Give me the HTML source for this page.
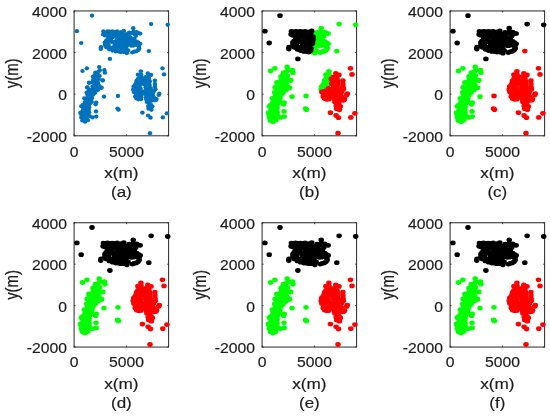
<!DOCTYPE html>
<html><head><meta charset="utf-8"><title>Clustering results</title>
<style>
html,body{margin:0;padding:0;background:#fff;}
svg{display:block;font-family:"Liberation Sans",Arial,Helvetica,sans-serif;fill:#1c1c1c;}
text{stroke:#1c1c1c;stroke-width:0.18px;}
</style></head><body>
<svg width="550" height="416" viewBox="0 0 550 416">
<rect width="550" height="416" fill="#ffffff"/>
<rect x="74.10" y="10.95" width="94.50" height="124.85" fill="none" stroke="#262626" stroke-width="1"/>
<path d="M74.10 135.80v-1.4M74.10 10.95v1.4M126.60 135.80v-1.4M126.60 10.95v1.4M74.10 135.80h1.4M168.60 135.80h-1.4M74.10 94.18h1.4M168.60 94.18h-1.4M74.10 52.57h1.4M168.60 52.57h-1.4M74.10 10.95h1.4M168.60 10.95h-1.4" stroke="#262626" stroke-width="0.9" fill="none"/>
<g fill="#0072bd"><ellipse cx="106.3" cy="47.3" rx="2.25" ry="2.1"/><ellipse cx="109.3" cy="49.3" rx="2.25" ry="2.1"/><ellipse cx="112.5" cy="50.6" rx="2.25" ry="2.1"/><ellipse cx="115.8" cy="51.4" rx="2.25" ry="2.1"/><ellipse cx="103.4" cy="31.4" rx="2.25" ry="2.1"/><ellipse cx="107.4" cy="31.3" rx="2.25" ry="2.1"/><ellipse cx="112.4" cy="31.4" rx="2.25" ry="2.1"/><ellipse cx="117.1" cy="31.3" rx="2.25" ry="2.1"/><ellipse cx="123.8" cy="30.9" rx="2.25" ry="2.1"/><ellipse cx="129.2" cy="32.5" rx="2.25" ry="2.1"/><ellipse cx="133.5" cy="31.7" rx="2.25" ry="2.1"/><ellipse cx="136.5" cy="32.1" rx="2.25" ry="2.1"/><ellipse cx="140.2" cy="33.6" rx="2.25" ry="2.1"/><ellipse cx="135.8" cy="35.9" rx="2.25" ry="2.1"/><ellipse cx="140.2" cy="43.8" rx="2.25" ry="2.1"/><ellipse cx="139.2" cy="48.5" rx="2.25" ry="2.1"/><ellipse cx="126.9" cy="53.2" rx="2.25" ry="2.1"/><ellipse cx="132.3" cy="52.5" rx="2.25" ry="2.1"/><ellipse cx="136.2" cy="51.3" rx="2.25" ry="2.1"/><ellipse cx="138.0" cy="50.2" rx="2.25" ry="2.1"/><ellipse cx="103.1" cy="34.5" rx="2.25" ry="2.1"/><ellipse cx="104.9" cy="42.5" rx="2.25" ry="2.1"/><ellipse cx="104.9" cy="45.0" rx="2.25" ry="2.1"/><ellipse cx="114.9" cy="34.2" rx="2.25" ry="2.1"/><ellipse cx="123.0" cy="39.1" rx="2.25" ry="2.1"/><ellipse cx="105.3" cy="32.9" rx="2.25" ry="2.1"/><ellipse cx="118.8" cy="49.5" rx="2.25" ry="2.1"/><ellipse cx="107.3" cy="35.8" rx="2.25" ry="2.1"/><ellipse cx="108.1" cy="33.5" rx="2.25" ry="2.1"/><ellipse cx="114.4" cy="49.2" rx="2.25" ry="2.1"/><ellipse cx="126.9" cy="39.2" rx="2.25" ry="2.1"/><ellipse cx="128.5" cy="40.5" rx="2.25" ry="2.1"/><ellipse cx="114.6" cy="44.0" rx="2.25" ry="2.1"/><ellipse cx="119.9" cy="37.6" rx="2.25" ry="2.1"/><ellipse cx="122.6" cy="50.6" rx="2.25" ry="2.1"/><ellipse cx="130.4" cy="37.3" rx="2.25" ry="2.1"/><ellipse cx="108.4" cy="41.9" rx="2.25" ry="2.1"/><ellipse cx="131.7" cy="43.8" rx="2.25" ry="2.1"/><ellipse cx="129.1" cy="44.2" rx="2.25" ry="2.1"/><ellipse cx="124.7" cy="41.1" rx="2.25" ry="2.1"/><ellipse cx="120.7" cy="45.8" rx="2.25" ry="2.1"/><ellipse cx="117.3" cy="45.9" rx="2.25" ry="2.1"/><ellipse cx="109.3" cy="36.0" rx="2.25" ry="2.1"/><ellipse cx="111.5" cy="41.8" rx="2.25" ry="2.1"/><ellipse cx="125.0" cy="36.7" rx="2.25" ry="2.1"/><ellipse cx="116.7" cy="43.6" rx="2.25" ry="2.1"/><ellipse cx="138.9" cy="46.4" rx="2.25" ry="2.1"/><ellipse cx="117.5" cy="39.8" rx="2.25" ry="2.1"/><ellipse cx="110.6" cy="34.5" rx="2.25" ry="2.1"/><ellipse cx="126.0" cy="34.2" rx="2.25" ry="2.1"/><ellipse cx="120.4" cy="41.7" rx="2.25" ry="2.1"/><ellipse cx="115.7" cy="36.8" rx="2.25" ry="2.1"/><ellipse cx="122.7" cy="34.1" rx="2.25" ry="2.1"/><ellipse cx="122.9" cy="48.4" rx="2.25" ry="2.1"/><ellipse cx="126.4" cy="51.1" rx="2.25" ry="2.1"/><ellipse cx="134.6" cy="41.6" rx="2.25" ry="2.1"/><ellipse cx="131.2" cy="41.6" rx="2.25" ry="2.1"/><ellipse cx="112.2" cy="37.4" rx="2.25" ry="2.1"/><ellipse cx="116.1" cy="41.2" rx="2.25" ry="2.1"/><ellipse cx="118.6" cy="51.5" rx="2.25" ry="2.1"/><ellipse cx="119.4" cy="34.9" rx="2.25" ry="2.1"/><ellipse cx="106.6" cy="43.5" rx="2.25" ry="2.1"/><ellipse cx="120.8" cy="52.1" rx="2.25" ry="2.1"/><ellipse cx="123.9" cy="52.1" rx="2.25" ry="2.1"/><ellipse cx="134.6" cy="33.9" rx="2.25" ry="2.1"/><ellipse cx="108.5" cy="47.0" rx="2.25" ry="2.1"/><ellipse cx="110.1" cy="38.0" rx="2.25" ry="2.1"/><ellipse cx="126.4" cy="42.4" rx="2.25" ry="2.1"/><ellipse cx="112.9" cy="33.7" rx="2.25" ry="2.1"/><ellipse cx="124.3" cy="46.6" rx="2.25" ry="2.1"/><ellipse cx="122.7" cy="36.2" rx="2.25" ry="2.1"/><ellipse cx="138.2" cy="33.2" rx="2.25" ry="2.1"/><ellipse cx="131.2" cy="45.7" rx="2.25" ry="2.1"/><ellipse cx="136.6" cy="45.0" rx="2.25" ry="2.1"/><ellipse cx="107.7" cy="39.0" rx="2.25" ry="2.1"/><ellipse cx="126.5" cy="46.2" rx="2.25" ry="2.1"/><ellipse cx="128.3" cy="37.4" rx="2.25" ry="2.1"/><ellipse cx="122.3" cy="41.3" rx="2.25" ry="2.1"/><ellipse cx="136.7" cy="41.5" rx="2.25" ry="2.1"/><ellipse cx="122.6" cy="44.0" rx="2.25" ry="2.1"/><ellipse cx="117.4" cy="35.9" rx="2.25" ry="2.1"/><ellipse cx="128.6" cy="35.3" rx="2.25" ry="2.1"/><ellipse cx="111.0" cy="48.0" rx="2.25" ry="2.1"/><ellipse cx="133.4" cy="45.6" rx="2.25" ry="2.1"/><ellipse cx="121.0" cy="32.0" rx="2.25" ry="2.1"/><ellipse cx="110.9" cy="39.8" rx="2.25" ry="2.1"/><ellipse cx="118.6" cy="44.0" rx="2.25" ry="2.1"/><ellipse cx="106.1" cy="40.8" rx="2.25" ry="2.1"/><ellipse cx="116.3" cy="48.1" rx="2.25" ry="2.1"/><ellipse cx="119.3" cy="47.2" rx="2.25" ry="2.1"/><ellipse cx="113.4" cy="47.0" rx="2.25" ry="2.1"/><ellipse cx="113.4" cy="35.7" rx="2.25" ry="2.1"/><ellipse cx="132.2" cy="39.6" rx="2.25" ry="2.1"/><ellipse cx="138.4" cy="42.7" rx="2.25" ry="2.1"/><ellipse cx="134.4" cy="38.8" rx="2.25" ry="2.1"/><ellipse cx="125.8" cy="48.5" rx="2.25" ry="2.1"/><ellipse cx="131.7" cy="33.1" rx="2.25" ry="2.1"/><ellipse cx="109.5" cy="31.6" rx="2.25" ry="2.1"/><ellipse cx="118.3" cy="33.1" rx="2.25" ry="2.1"/><ellipse cx="134.7" cy="44.0" rx="2.25" ry="2.1"/><ellipse cx="120.8" cy="48.8" rx="2.25" ry="2.1"/><ellipse cx="114.5" cy="32.0" rx="2.25" ry="2.1"/><ellipse cx="124.5" cy="43.5" rx="2.25" ry="2.1"/><ellipse cx="108.6" cy="44.9" rx="2.25" ry="2.1"/><ellipse cx="115.3" cy="46.2" rx="2.25" ry="2.1"/><ellipse cx="117.6" cy="37.9" rx="2.25" ry="2.1"/><ellipse cx="120.9" cy="39.4" rx="2.25" ry="2.1"/><ellipse cx="127.1" cy="44.2" rx="2.25" ry="2.1"/><ellipse cx="118.1" cy="42.0" rx="2.25" ry="2.1"/><ellipse cx="114.1" cy="41.8" rx="2.25" ry="2.1"/><ellipse cx="104.9" cy="35.3" rx="2.25" ry="2.1"/><ellipse cx="134.2" cy="51.7" rx="2.25" ry="2.1"/><ellipse cx="128.1" cy="50.3" rx="2.25" ry="2.1"/><ellipse cx="125.0" cy="38.9" rx="2.25" ry="2.1"/><ellipse cx="82.3" cy="120.5" rx="2.25" ry="2.1"/><ellipse cx="85.0" cy="121.7" rx="2.25" ry="2.1"/><ellipse cx="87.8" cy="120.2" rx="2.25" ry="2.1"/><ellipse cx="81.3" cy="117.5" rx="2.25" ry="2.1"/><ellipse cx="89.6" cy="116.0" rx="2.25" ry="2.1"/><ellipse cx="80.8" cy="114.0" rx="2.25" ry="2.1"/><ellipse cx="99.8" cy="70.3" rx="2.25" ry="2.1"/><ellipse cx="95.4" cy="72.7" rx="2.25" ry="2.1"/><ellipse cx="93.0" cy="76.7" rx="2.25" ry="2.1"/><ellipse cx="102.6" cy="80.4" rx="2.25" ry="2.1"/><ellipse cx="89.1" cy="83.0" rx="2.25" ry="2.1"/><ellipse cx="87.1" cy="87.5" rx="2.25" ry="2.1"/><ellipse cx="101.0" cy="87.8" rx="2.25" ry="2.1"/><ellipse cx="86.7" cy="92.5" rx="2.25" ry="2.1"/><ellipse cx="84.3" cy="98.3" rx="2.25" ry="2.1"/><ellipse cx="80.5" cy="112.6" rx="2.25" ry="2.1"/><ellipse cx="81.3" cy="106.3" rx="2.25" ry="2.1"/><ellipse cx="97.6" cy="87.7" rx="2.25" ry="2.1"/><ellipse cx="99.5" cy="75.9" rx="2.25" ry="2.1"/><ellipse cx="94.7" cy="75.4" rx="2.25" ry="2.1"/><ellipse cx="90.8" cy="100.1" rx="2.25" ry="2.1"/><ellipse cx="82.9" cy="113.6" rx="2.25" ry="2.1"/><ellipse cx="93.9" cy="89.5" rx="2.25" ry="2.1"/><ellipse cx="84.6" cy="115.5" rx="2.25" ry="2.1"/><ellipse cx="95.0" cy="92.8" rx="2.25" ry="2.1"/><ellipse cx="86.6" cy="111.0" rx="2.25" ry="2.1"/><ellipse cx="98.7" cy="79.0" rx="2.25" ry="2.1"/><ellipse cx="92.5" cy="82.3" rx="2.25" ry="2.1"/><ellipse cx="98.1" cy="89.8" rx="2.25" ry="2.1"/><ellipse cx="85.5" cy="107.0" rx="2.25" ry="2.1"/><ellipse cx="86.9" cy="114.5" rx="2.25" ry="2.1"/><ellipse cx="83.6" cy="107.9" rx="2.25" ry="2.1"/><ellipse cx="97.9" cy="82.7" rx="2.25" ry="2.1"/><ellipse cx="92.0" cy="98.1" rx="2.25" ry="2.1"/><ellipse cx="89.1" cy="112.3" rx="2.25" ry="2.1"/><ellipse cx="87.5" cy="94.7" rx="2.25" ry="2.1"/><ellipse cx="91.2" cy="89.8" rx="2.25" ry="2.1"/><ellipse cx="98.4" cy="71.8" rx="2.25" ry="2.1"/><ellipse cx="87.1" cy="108.2" rx="2.25" ry="2.1"/><ellipse cx="95.8" cy="79.4" rx="2.25" ry="2.1"/><ellipse cx="86.5" cy="103.5" rx="2.25" ry="2.1"/><ellipse cx="97.3" cy="74.4" rx="2.25" ry="2.1"/><ellipse cx="95.9" cy="84.3" rx="2.25" ry="2.1"/><ellipse cx="93.0" cy="94.8" rx="2.25" ry="2.1"/><ellipse cx="95.6" cy="87.3" rx="2.25" ry="2.1"/><ellipse cx="84.8" cy="119.0" rx="2.25" ry="2.1"/><ellipse cx="87.3" cy="98.1" rx="2.25" ry="2.1"/><ellipse cx="86.6" cy="100.6" rx="2.25" ry="2.1"/><ellipse cx="92.6" cy="86.4" rx="2.25" ry="2.1"/><ellipse cx="86.8" cy="117.4" rx="2.25" ry="2.1"/><ellipse cx="92.1" cy="92.2" rx="2.25" ry="2.1"/><ellipse cx="90.1" cy="103.3" rx="2.25" ry="2.1"/><ellipse cx="88.8" cy="105.1" rx="2.25" ry="2.1"/><ellipse cx="82.8" cy="105.0" rx="2.25" ry="2.1"/><ellipse cx="90.9" cy="95.9" rx="2.25" ry="2.1"/><ellipse cx="96.0" cy="77.0" rx="2.25" ry="2.1"/><ellipse cx="91.7" cy="101.8" rx="2.25" ry="2.1"/><ellipse cx="90.2" cy="92.9" rx="2.25" ry="2.1"/><ellipse cx="94.1" cy="85.1" rx="2.25" ry="2.1"/><ellipse cx="83.0" cy="110.2" rx="2.25" ry="2.1"/><ellipse cx="88.5" cy="102.1" rx="2.25" ry="2.1"/><ellipse cx="94.6" cy="82.7" rx="2.25" ry="2.1"/><ellipse cx="99.4" cy="86.4" rx="2.25" ry="2.1"/><ellipse cx="88.5" cy="96.4" rx="2.25" ry="2.1"/><ellipse cx="89.9" cy="98.1" rx="2.25" ry="2.1"/><ellipse cx="93.2" cy="79.9" rx="2.25" ry="2.1"/><ellipse cx="89.0" cy="90.2" rx="2.25" ry="2.1"/><ellipse cx="89.1" cy="107.6" rx="2.25" ry="2.1"/><ellipse cx="96.1" cy="90.6" rx="2.25" ry="2.1"/><ellipse cx="84.5" cy="111.9" rx="2.25" ry="2.1"/><ellipse cx="88.7" cy="110.0" rx="2.25" ry="2.1"/><ellipse cx="88.6" cy="99.7" rx="2.25" ry="2.1"/><ellipse cx="98.3" cy="84.7" rx="2.25" ry="2.1"/><ellipse cx="82.5" cy="115.7" rx="2.25" ry="2.1"/><ellipse cx="84.6" cy="104.2" rx="2.25" ry="2.1"/><ellipse cx="85.0" cy="102.1" rx="2.25" ry="2.1"/><ellipse cx="85.2" cy="109.1" rx="2.25" ry="2.1"/><ellipse cx="96.5" cy="81.3" rx="2.25" ry="2.1"/><ellipse cx="141.2" cy="95.5" rx="2.25" ry="2.1"/><ellipse cx="141.3" cy="97.5" rx="2.25" ry="2.1"/><ellipse cx="140.9" cy="99.2" rx="2.25" ry="2.1"/><ellipse cx="138.5" cy="99.3" rx="2.25" ry="2.1"/><ellipse cx="136.5" cy="98.5" rx="2.25" ry="2.1"/><ellipse cx="135.2" cy="96.5" rx="2.25" ry="2.1"/><ellipse cx="146.1" cy="95.0" rx="2.25" ry="2.1"/><ellipse cx="146.1" cy="97.5" rx="2.25" ry="2.1"/><ellipse cx="146.4" cy="99.5" rx="2.25" ry="2.1"/><ellipse cx="146.9" cy="102.0" rx="2.25" ry="2.1"/><ellipse cx="140.9" cy="71.3" rx="2.25" ry="2.1"/><ellipse cx="137.9" cy="74.7" rx="2.25" ry="2.1"/><ellipse cx="147.8" cy="73.4" rx="2.25" ry="2.1"/><ellipse cx="151.0" cy="74.9" rx="2.25" ry="2.1"/><ellipse cx="133.2" cy="89.4" rx="2.25" ry="2.1"/><ellipse cx="133.6" cy="86.6" rx="2.25" ry="2.1"/><ellipse cx="156.5" cy="99.1" rx="2.25" ry="2.1"/><ellipse cx="155.0" cy="100.3" rx="2.25" ry="2.1"/><ellipse cx="151.4" cy="109.8" rx="2.25" ry="2.1"/><ellipse cx="141.7" cy="81.3" rx="2.25" ry="2.1"/><ellipse cx="148.4" cy="76.9" rx="2.25" ry="2.1"/><ellipse cx="140.0" cy="85.1" rx="2.25" ry="2.1"/><ellipse cx="151.0" cy="105.0" rx="2.25" ry="2.1"/><ellipse cx="145.8" cy="79.1" rx="2.25" ry="2.1"/><ellipse cx="150.8" cy="96.9" rx="2.25" ry="2.1"/><ellipse cx="136.4" cy="91.2" rx="2.25" ry="2.1"/><ellipse cx="150.3" cy="93.1" rx="2.25" ry="2.1"/><ellipse cx="147.9" cy="87.3" rx="2.25" ry="2.1"/><ellipse cx="149.0" cy="78.8" rx="2.25" ry="2.1"/><ellipse cx="149.6" cy="85.0" rx="2.25" ry="2.1"/><ellipse cx="150.4" cy="107.8" rx="2.25" ry="2.1"/><ellipse cx="137.7" cy="88.9" rx="2.25" ry="2.1"/><ellipse cx="141.1" cy="74.6" rx="2.25" ry="2.1"/><ellipse cx="148.8" cy="97.0" rx="2.25" ry="2.1"/><ellipse cx="137.8" cy="94.1" rx="2.25" ry="2.1"/><ellipse cx="135.5" cy="93.3" rx="2.25" ry="2.1"/><ellipse cx="152.3" cy="98.2" rx="2.25" ry="2.1"/><ellipse cx="143.3" cy="78.9" rx="2.25" ry="2.1"/><ellipse cx="143.0" cy="93.4" rx="2.25" ry="2.1"/><ellipse cx="137.9" cy="79.0" rx="2.25" ry="2.1"/><ellipse cx="143.7" cy="84.0" rx="2.25" ry="2.1"/><ellipse cx="137.0" cy="86.3" rx="2.25" ry="2.1"/><ellipse cx="138.6" cy="96.5" rx="2.25" ry="2.1"/><ellipse cx="148.2" cy="106.0" rx="2.25" ry="2.1"/><ellipse cx="136.5" cy="80.9" rx="2.25" ry="2.1"/><ellipse cx="149.4" cy="103.1" rx="2.25" ry="2.1"/><ellipse cx="136.0" cy="83.3" rx="2.25" ry="2.1"/><ellipse cx="142.7" cy="91.4" rx="2.25" ry="2.1"/><ellipse cx="149.5" cy="100.2" rx="2.25" ry="2.1"/><ellipse cx="148.6" cy="83.2" rx="2.25" ry="2.1"/><ellipse cx="140.5" cy="88.3" rx="2.25" ry="2.1"/><ellipse cx="141.6" cy="77.3" rx="2.25" ry="2.1"/><ellipse cx="150.7" cy="88.1" rx="2.25" ry="2.1"/><ellipse cx="140.4" cy="92.2" rx="2.25" ry="2.1"/><ellipse cx="138.8" cy="82.8" rx="2.25" ry="2.1"/><ellipse cx="144.3" cy="80.6" rx="2.25" ry="2.1"/><ellipse cx="148.3" cy="89.8" rx="2.25" ry="2.1"/><ellipse cx="146.3" cy="89.4" rx="2.25" ry="2.1"/><ellipse cx="145.4" cy="91.8" rx="2.25" ry="2.1"/><ellipse cx="135.1" cy="88.3" rx="2.25" ry="2.1"/><ellipse cx="147.8" cy="92.4" rx="2.25" ry="2.1"/><ellipse cx="145.5" cy="85.3" rx="2.25" ry="2.1"/><ellipse cx="153.3" cy="96.4" rx="2.25" ry="2.1"/><ellipse cx="151.7" cy="100.7" rx="2.25" ry="2.1"/><ellipse cx="151.0" cy="90.1" rx="2.25" ry="2.1"/><ellipse cx="146.6" cy="82.8" rx="2.25" ry="2.1"/><ellipse cx="141.1" cy="79.2" rx="2.25" ry="2.1"/><ellipse cx="149.8" cy="81.4" rx="2.25" ry="2.1"/><ellipse cx="154.4" cy="98.4" rx="2.25" ry="2.1"/><ellipse cx="145.6" cy="77.0" rx="2.25" ry="2.1"/><ellipse cx="133.8" cy="92.0" rx="2.25" ry="2.1"/><ellipse cx="139.5" cy="80.9" rx="2.25" ry="2.1"/><ellipse cx="139.4" cy="77.5" rx="2.25" ry="2.1"/><ellipse cx="152.7" cy="93.4" rx="2.25" ry="2.1"/><ellipse cx="139.6" cy="90.3" rx="2.25" ry="2.1"/><ellipse cx="148.0" cy="94.4" rx="2.25" ry="2.1"/><ellipse cx="141.2" cy="83.5" rx="2.25" ry="2.1"/><ellipse cx="147.3" cy="80.8" rx="2.25" ry="2.1"/><ellipse cx="139.1" cy="86.9" rx="2.25" ry="2.1"/><ellipse cx="152.4" cy="106.6" rx="2.25" ry="2.1"/><ellipse cx="135.0" cy="85.2" rx="2.25" ry="2.1"/><ellipse cx="148.6" cy="108.7" rx="2.25" ry="2.1"/><ellipse cx="151.3" cy="94.8" rx="2.25" ry="2.1"/><ellipse cx="138.3" cy="92.2" rx="2.25" ry="2.1"/><ellipse cx="145.6" cy="87.5" rx="2.25" ry="2.1"/><ellipse cx="92.0" cy="15.7" rx="2.25" ry="2.1"/><ellipse cx="76.9" cy="31.2" rx="2.25" ry="2.1"/><ellipse cx="81.2" cy="43.0" rx="2.25" ry="2.1"/><ellipse cx="101.0" cy="47.2" rx="2.25" ry="2.1"/><ellipse cx="100.8" cy="49.0" rx="2.25" ry="2.1"/><ellipse cx="151.1" cy="24.1" rx="2.25" ry="2.1"/><ellipse cx="167.7" cy="24.8" rx="2.25" ry="2.1"/><ellipse cx="148.8" cy="51.1" rx="2.25" ry="2.1"/><ellipse cx="109.9" cy="58.9" rx="2.25" ry="2.1"/><ellipse cx="133.2" cy="28.2" rx="2.25" ry="2.1"/><ellipse cx="86.9" cy="68.3" rx="2.25" ry="2.1"/><ellipse cx="82.5" cy="71.0" rx="2.25" ry="2.1"/><ellipse cx="99.2" cy="67.0" rx="2.25" ry="2.1"/><ellipse cx="104.4" cy="70.1" rx="2.25" ry="2.1"/><ellipse cx="104.9" cy="72.7" rx="2.25" ry="2.1"/><ellipse cx="102.7" cy="80.3" rx="2.25" ry="2.1"/><ellipse cx="89.1" cy="82.5" rx="2.25" ry="2.1"/><ellipse cx="87.5" cy="87.4" rx="2.25" ry="2.1"/><ellipse cx="101.6" cy="87.7" rx="2.25" ry="2.1"/><ellipse cx="104.0" cy="96.7" rx="2.25" ry="2.1"/><ellipse cx="118.0" cy="95.9" rx="2.25" ry="2.1"/><ellipse cx="117.5" cy="108.6" rx="2.25" ry="2.1"/><ellipse cx="118.5" cy="109.7" rx="2.25" ry="2.1"/><ellipse cx="96.2" cy="102.6" rx="2.25" ry="2.1"/><ellipse cx="95.6" cy="104.3" rx="2.25" ry="2.1"/><ellipse cx="96.0" cy="111.4" rx="2.25" ry="2.1"/><ellipse cx="96.2" cy="116.6" rx="2.25" ry="2.1"/><ellipse cx="92.4" cy="117.4" rx="2.25" ry="2.1"/><ellipse cx="162.5" cy="68.3" rx="2.25" ry="2.1"/><ellipse cx="164.0" cy="74.4" rx="2.25" ry="2.1"/><ellipse cx="159.3" cy="93.7" rx="2.25" ry="2.1"/><ellipse cx="154.9" cy="80.6" rx="2.25" ry="2.1"/><ellipse cx="154.9" cy="83.9" rx="2.25" ry="2.1"/><ellipse cx="155.0" cy="86.7" rx="2.25" ry="2.1"/><ellipse cx="155.4" cy="89.2" rx="2.25" ry="2.1"/><ellipse cx="153.6" cy="91.5" rx="2.25" ry="2.1"/><ellipse cx="142.4" cy="112.7" rx="2.25" ry="2.1"/><ellipse cx="148.1" cy="115.5" rx="2.25" ry="2.1"/><ellipse cx="150.5" cy="117.7" rx="2.25" ry="2.1"/><ellipse cx="162.8" cy="117.4" rx="2.25" ry="2.1"/><ellipse cx="166.9" cy="113.3" rx="2.25" ry="2.1"/><ellipse cx="150.0" cy="133.2" rx="2.25" ry="2.1"/><ellipse cx="156.0" cy="99.9" rx="2.25" ry="2.1"/><ellipse cx="158.7" cy="95.0" rx="2.25" ry="2.1"/></g>
<text transform="translate(74.10,156.50) scale(1.125,1)" text-anchor="middle" font-size="14">0</text>
<text transform="translate(126.60,156.50) scale(1.125,1)" text-anchor="middle" font-size="14">5000</text>
<text transform="translate(67.00,141.95) scale(1.125,1)" text-anchor="end" font-size="14">-2000</text>
<text transform="translate(67.00,100.33) scale(1.125,1)" text-anchor="end" font-size="14">0</text>
<text transform="translate(67.00,58.72) scale(1.125,1)" text-anchor="end" font-size="14">2000</text>
<text transform="translate(67.00,17.10) scale(1.125,1)" text-anchor="end" font-size="14">4000</text>
<text transform="translate(121.35,178.10) scale(1.16,1)" text-anchor="middle" font-size="14.8">x(m)</text>
<text transform="translate(121.35,197.20) scale(1.15,1)" text-anchor="middle" font-size="14.8">(a)</text>
<text transform="translate(17.90,73.37) rotate(-90) scale(1,1.2)" text-anchor="middle" font-size="15">y(m)</text>
<rect x="262.10" y="10.95" width="94.50" height="124.85" fill="none" stroke="#262626" stroke-width="1"/>
<path d="M262.10 135.80v-1.4M262.10 10.95v1.4M314.60 135.80v-1.4M314.60 10.95v1.4M262.10 135.80h1.4M356.60 135.80h-1.4M262.10 94.18h1.4M356.60 94.18h-1.4M262.10 52.57h1.4M356.60 52.57h-1.4M262.10 10.95h1.4M356.60 10.95h-1.4" stroke="#262626" stroke-width="0.9" fill="none"/>
<g fill="#00ff00"><ellipse cx="317.2" cy="32.5" rx="2.75" ry="2.4"/><ellipse cx="321.5" cy="31.7" rx="2.75" ry="2.4"/><ellipse cx="324.5" cy="32.1" rx="2.75" ry="2.4"/><ellipse cx="328.2" cy="33.6" rx="2.75" ry="2.4"/><ellipse cx="323.8" cy="35.9" rx="2.75" ry="2.4"/><ellipse cx="328.2" cy="43.8" rx="2.75" ry="2.4"/><ellipse cx="327.2" cy="48.5" rx="2.75" ry="2.4"/><ellipse cx="314.9" cy="53.2" rx="2.75" ry="2.4"/><ellipse cx="320.3" cy="52.5" rx="2.75" ry="2.4"/><ellipse cx="324.2" cy="51.3" rx="2.75" ry="2.4"/><ellipse cx="326.0" cy="50.2" rx="2.75" ry="2.4"/><ellipse cx="314.9" cy="39.2" rx="2.75" ry="2.4"/><ellipse cx="316.5" cy="40.5" rx="2.75" ry="2.4"/><ellipse cx="318.4" cy="37.3" rx="2.75" ry="2.4"/><ellipse cx="319.7" cy="43.8" rx="2.75" ry="2.4"/><ellipse cx="317.1" cy="44.2" rx="2.75" ry="2.4"/><ellipse cx="326.9" cy="46.4" rx="2.75" ry="2.4"/><ellipse cx="314.0" cy="34.2" rx="2.75" ry="2.4"/><ellipse cx="314.4" cy="51.1" rx="2.75" ry="2.4"/><ellipse cx="322.6" cy="41.6" rx="2.75" ry="2.4"/><ellipse cx="319.2" cy="41.6" rx="2.75" ry="2.4"/><ellipse cx="311.9" cy="52.1" rx="2.75" ry="2.4"/><ellipse cx="322.6" cy="33.9" rx="2.75" ry="2.4"/><ellipse cx="314.4" cy="42.4" rx="2.75" ry="2.4"/><ellipse cx="312.3" cy="46.6" rx="2.75" ry="2.4"/><ellipse cx="326.2" cy="33.2" rx="2.75" ry="2.4"/><ellipse cx="319.2" cy="45.7" rx="2.75" ry="2.4"/><ellipse cx="324.6" cy="45.0" rx="2.75" ry="2.4"/><ellipse cx="314.5" cy="46.2" rx="2.75" ry="2.4"/><ellipse cx="316.3" cy="37.4" rx="2.75" ry="2.4"/><ellipse cx="324.7" cy="41.5" rx="2.75" ry="2.4"/><ellipse cx="316.6" cy="35.3" rx="2.75" ry="2.4"/><ellipse cx="321.4" cy="45.6" rx="2.75" ry="2.4"/><ellipse cx="320.2" cy="39.6" rx="2.75" ry="2.4"/><ellipse cx="326.4" cy="42.7" rx="2.75" ry="2.4"/><ellipse cx="322.4" cy="38.8" rx="2.75" ry="2.4"/><ellipse cx="313.8" cy="48.5" rx="2.75" ry="2.4"/><ellipse cx="319.7" cy="33.1" rx="2.75" ry="2.4"/><ellipse cx="322.7" cy="44.0" rx="2.75" ry="2.4"/><ellipse cx="315.1" cy="44.2" rx="2.75" ry="2.4"/><ellipse cx="322.2" cy="51.7" rx="2.75" ry="2.4"/><ellipse cx="316.1" cy="50.3" rx="2.75" ry="2.4"/><ellipse cx="270.3" cy="120.5" rx="2.75" ry="2.4"/><ellipse cx="273.0" cy="121.7" rx="2.75" ry="2.4"/><ellipse cx="275.8" cy="120.2" rx="2.75" ry="2.4"/><ellipse cx="269.3" cy="117.5" rx="2.75" ry="2.4"/><ellipse cx="277.6" cy="116.0" rx="2.75" ry="2.4"/><ellipse cx="268.8" cy="114.0" rx="2.75" ry="2.4"/><ellipse cx="287.8" cy="70.3" rx="2.75" ry="2.4"/><ellipse cx="283.4" cy="72.7" rx="2.75" ry="2.4"/><ellipse cx="281.0" cy="76.7" rx="2.75" ry="2.4"/><ellipse cx="290.6" cy="80.4" rx="2.75" ry="2.4"/><ellipse cx="277.1" cy="83.0" rx="2.75" ry="2.4"/><ellipse cx="275.1" cy="87.5" rx="2.75" ry="2.4"/><ellipse cx="289.0" cy="87.8" rx="2.75" ry="2.4"/><ellipse cx="274.7" cy="92.5" rx="2.75" ry="2.4"/><ellipse cx="272.3" cy="98.3" rx="2.75" ry="2.4"/><ellipse cx="268.5" cy="112.6" rx="2.75" ry="2.4"/><ellipse cx="269.3" cy="106.3" rx="2.75" ry="2.4"/><ellipse cx="285.6" cy="87.7" rx="2.75" ry="2.4"/><ellipse cx="287.5" cy="75.9" rx="2.75" ry="2.4"/><ellipse cx="282.7" cy="75.4" rx="2.75" ry="2.4"/><ellipse cx="278.8" cy="100.1" rx="2.75" ry="2.4"/><ellipse cx="270.9" cy="113.6" rx="2.75" ry="2.4"/><ellipse cx="281.9" cy="89.5" rx="2.75" ry="2.4"/><ellipse cx="272.6" cy="115.5" rx="2.75" ry="2.4"/><ellipse cx="283.0" cy="92.8" rx="2.75" ry="2.4"/><ellipse cx="274.6" cy="111.0" rx="2.75" ry="2.4"/><ellipse cx="286.7" cy="79.0" rx="2.75" ry="2.4"/><ellipse cx="280.5" cy="82.3" rx="2.75" ry="2.4"/><ellipse cx="286.1" cy="89.8" rx="2.75" ry="2.4"/><ellipse cx="273.5" cy="107.0" rx="2.75" ry="2.4"/><ellipse cx="274.9" cy="114.5" rx="2.75" ry="2.4"/><ellipse cx="271.6" cy="107.9" rx="2.75" ry="2.4"/><ellipse cx="285.9" cy="82.7" rx="2.75" ry="2.4"/><ellipse cx="280.0" cy="98.1" rx="2.75" ry="2.4"/><ellipse cx="277.1" cy="112.3" rx="2.75" ry="2.4"/><ellipse cx="275.5" cy="94.7" rx="2.75" ry="2.4"/><ellipse cx="279.2" cy="89.8" rx="2.75" ry="2.4"/><ellipse cx="286.4" cy="71.8" rx="2.75" ry="2.4"/><ellipse cx="275.1" cy="108.2" rx="2.75" ry="2.4"/><ellipse cx="283.8" cy="79.4" rx="2.75" ry="2.4"/><ellipse cx="274.5" cy="103.5" rx="2.75" ry="2.4"/><ellipse cx="285.3" cy="74.4" rx="2.75" ry="2.4"/><ellipse cx="283.9" cy="84.3" rx="2.75" ry="2.4"/><ellipse cx="281.0" cy="94.8" rx="2.75" ry="2.4"/><ellipse cx="283.6" cy="87.3" rx="2.75" ry="2.4"/><ellipse cx="272.8" cy="119.0" rx="2.75" ry="2.4"/><ellipse cx="275.3" cy="98.1" rx="2.75" ry="2.4"/><ellipse cx="274.6" cy="100.6" rx="2.75" ry="2.4"/><ellipse cx="280.6" cy="86.4" rx="2.75" ry="2.4"/><ellipse cx="274.8" cy="117.4" rx="2.75" ry="2.4"/><ellipse cx="280.1" cy="92.2" rx="2.75" ry="2.4"/><ellipse cx="278.1" cy="103.3" rx="2.75" ry="2.4"/><ellipse cx="276.8" cy="105.1" rx="2.75" ry="2.4"/><ellipse cx="270.8" cy="105.0" rx="2.75" ry="2.4"/><ellipse cx="278.9" cy="95.9" rx="2.75" ry="2.4"/><ellipse cx="284.0" cy="77.0" rx="2.75" ry="2.4"/><ellipse cx="279.7" cy="101.8" rx="2.75" ry="2.4"/><ellipse cx="278.2" cy="92.9" rx="2.75" ry="2.4"/><ellipse cx="282.1" cy="85.1" rx="2.75" ry="2.4"/><ellipse cx="271.0" cy="110.2" rx="2.75" ry="2.4"/><ellipse cx="276.5" cy="102.1" rx="2.75" ry="2.4"/><ellipse cx="282.6" cy="82.7" rx="2.75" ry="2.4"/><ellipse cx="287.4" cy="86.4" rx="2.75" ry="2.4"/><ellipse cx="276.5" cy="96.4" rx="2.75" ry="2.4"/><ellipse cx="277.9" cy="98.1" rx="2.75" ry="2.4"/><ellipse cx="281.2" cy="79.9" rx="2.75" ry="2.4"/><ellipse cx="277.0" cy="90.2" rx="2.75" ry="2.4"/><ellipse cx="277.1" cy="107.6" rx="2.75" ry="2.4"/><ellipse cx="284.1" cy="90.6" rx="2.75" ry="2.4"/><ellipse cx="272.5" cy="111.9" rx="2.75" ry="2.4"/><ellipse cx="276.7" cy="110.0" rx="2.75" ry="2.4"/><ellipse cx="276.6" cy="99.7" rx="2.75" ry="2.4"/><ellipse cx="286.3" cy="84.7" rx="2.75" ry="2.4"/><ellipse cx="270.5" cy="115.7" rx="2.75" ry="2.4"/><ellipse cx="272.6" cy="104.2" rx="2.75" ry="2.4"/><ellipse cx="273.0" cy="102.1" rx="2.75" ry="2.4"/><ellipse cx="273.2" cy="109.1" rx="2.75" ry="2.4"/><ellipse cx="284.5" cy="81.3" rx="2.75" ry="2.4"/><ellipse cx="328.9" cy="71.3" rx="2.75" ry="2.4"/><ellipse cx="325.9" cy="74.7" rx="2.75" ry="2.4"/><ellipse cx="321.2" cy="89.4" rx="2.75" ry="2.4"/><ellipse cx="321.6" cy="86.6" rx="2.75" ry="2.4"/><ellipse cx="329.7" cy="81.3" rx="2.75" ry="2.4"/><ellipse cx="328.0" cy="85.1" rx="2.75" ry="2.4"/><ellipse cx="325.7" cy="88.9" rx="2.75" ry="2.4"/><ellipse cx="329.1" cy="74.6" rx="2.75" ry="2.4"/><ellipse cx="325.9" cy="79.0" rx="2.75" ry="2.4"/><ellipse cx="325.0" cy="86.3" rx="2.75" ry="2.4"/><ellipse cx="324.5" cy="80.9" rx="2.75" ry="2.4"/><ellipse cx="324.0" cy="83.3" rx="2.75" ry="2.4"/><ellipse cx="329.6" cy="77.3" rx="2.75" ry="2.4"/><ellipse cx="326.8" cy="82.8" rx="2.75" ry="2.4"/><ellipse cx="323.1" cy="88.3" rx="2.75" ry="2.4"/><ellipse cx="329.1" cy="79.2" rx="2.75" ry="2.4"/><ellipse cx="327.5" cy="80.9" rx="2.75" ry="2.4"/><ellipse cx="327.4" cy="77.5" rx="2.75" ry="2.4"/><ellipse cx="329.2" cy="83.5" rx="2.75" ry="2.4"/><ellipse cx="327.1" cy="86.9" rx="2.75" ry="2.4"/><ellipse cx="323.0" cy="85.2" rx="2.75" ry="2.4"/><ellipse cx="339.1" cy="24.1" rx="2.75" ry="2.4"/><ellipse cx="355.7" cy="24.8" rx="2.75" ry="2.4"/><ellipse cx="336.8" cy="51.1" rx="2.75" ry="2.4"/><ellipse cx="321.2" cy="28.2" rx="2.75" ry="2.4"/><ellipse cx="274.9" cy="68.3" rx="2.75" ry="2.4"/><ellipse cx="270.5" cy="71.0" rx="2.75" ry="2.4"/><ellipse cx="287.2" cy="67.0" rx="2.75" ry="2.4"/><ellipse cx="292.4" cy="70.1" rx="2.75" ry="2.4"/><ellipse cx="292.9" cy="72.7" rx="2.75" ry="2.4"/><ellipse cx="290.7" cy="80.3" rx="2.75" ry="2.4"/><ellipse cx="277.1" cy="82.5" rx="2.75" ry="2.4"/><ellipse cx="275.5" cy="87.4" rx="2.75" ry="2.4"/><ellipse cx="289.6" cy="87.7" rx="2.75" ry="2.4"/><ellipse cx="292.0" cy="96.7" rx="2.75" ry="2.4"/><ellipse cx="306.0" cy="95.9" rx="2.75" ry="2.4"/><ellipse cx="305.5" cy="108.6" rx="2.75" ry="2.4"/><ellipse cx="306.5" cy="109.7" rx="2.75" ry="2.4"/><ellipse cx="284.2" cy="102.6" rx="2.75" ry="2.4"/><ellipse cx="283.6" cy="104.3" rx="2.75" ry="2.4"/><ellipse cx="284.0" cy="111.4" rx="2.75" ry="2.4"/><ellipse cx="284.2" cy="116.6" rx="2.75" ry="2.4"/><ellipse cx="280.4" cy="117.4" rx="2.75" ry="2.4"/></g>
<g fill="#ff0000"><ellipse cx="329.2" cy="95.5" rx="2.75" ry="2.4"/><ellipse cx="329.3" cy="97.5" rx="2.75" ry="2.4"/><ellipse cx="328.9" cy="99.2" rx="2.75" ry="2.4"/><ellipse cx="326.5" cy="99.3" rx="2.75" ry="2.4"/><ellipse cx="324.5" cy="98.5" rx="2.75" ry="2.4"/><ellipse cx="323.2" cy="96.5" rx="2.75" ry="2.4"/><ellipse cx="334.1" cy="95.0" rx="2.75" ry="2.4"/><ellipse cx="334.1" cy="97.5" rx="2.75" ry="2.4"/><ellipse cx="334.4" cy="99.5" rx="2.75" ry="2.4"/><ellipse cx="334.9" cy="102.0" rx="2.75" ry="2.4"/><ellipse cx="335.8" cy="73.4" rx="2.75" ry="2.4"/><ellipse cx="339.0" cy="74.9" rx="2.75" ry="2.4"/><ellipse cx="344.5" cy="99.1" rx="2.75" ry="2.4"/><ellipse cx="343.0" cy="100.3" rx="2.75" ry="2.4"/><ellipse cx="339.4" cy="109.8" rx="2.75" ry="2.4"/><ellipse cx="336.4" cy="76.9" rx="2.75" ry="2.4"/><ellipse cx="339.0" cy="105.0" rx="2.75" ry="2.4"/><ellipse cx="333.8" cy="79.1" rx="2.75" ry="2.4"/><ellipse cx="338.8" cy="96.9" rx="2.75" ry="2.4"/><ellipse cx="324.4" cy="91.2" rx="2.75" ry="2.4"/><ellipse cx="338.3" cy="93.1" rx="2.75" ry="2.4"/><ellipse cx="335.9" cy="87.3" rx="2.75" ry="2.4"/><ellipse cx="337.0" cy="78.8" rx="2.75" ry="2.4"/><ellipse cx="337.6" cy="85.0" rx="2.75" ry="2.4"/><ellipse cx="338.4" cy="107.8" rx="2.75" ry="2.4"/><ellipse cx="336.8" cy="97.0" rx="2.75" ry="2.4"/><ellipse cx="325.8" cy="94.1" rx="2.75" ry="2.4"/><ellipse cx="323.5" cy="93.3" rx="2.75" ry="2.4"/><ellipse cx="340.3" cy="98.2" rx="2.75" ry="2.4"/><ellipse cx="331.3" cy="78.9" rx="2.75" ry="2.4"/><ellipse cx="331.0" cy="93.4" rx="2.75" ry="2.4"/><ellipse cx="331.7" cy="84.0" rx="2.75" ry="2.4"/><ellipse cx="326.6" cy="96.5" rx="2.75" ry="2.4"/><ellipse cx="336.2" cy="106.0" rx="2.75" ry="2.4"/><ellipse cx="337.4" cy="103.1" rx="2.75" ry="2.4"/><ellipse cx="330.7" cy="91.4" rx="2.75" ry="2.4"/><ellipse cx="337.5" cy="100.2" rx="2.75" ry="2.4"/><ellipse cx="336.6" cy="83.2" rx="2.75" ry="2.4"/><ellipse cx="328.5" cy="88.3" rx="2.75" ry="2.4"/><ellipse cx="338.7" cy="88.1" rx="2.75" ry="2.4"/><ellipse cx="328.4" cy="92.2" rx="2.75" ry="2.4"/><ellipse cx="332.3" cy="80.6" rx="2.75" ry="2.4"/><ellipse cx="336.3" cy="89.8" rx="2.75" ry="2.4"/><ellipse cx="334.3" cy="89.4" rx="2.75" ry="2.4"/><ellipse cx="333.4" cy="91.8" rx="2.75" ry="2.4"/><ellipse cx="335.8" cy="92.4" rx="2.75" ry="2.4"/><ellipse cx="333.5" cy="85.3" rx="2.75" ry="2.4"/><ellipse cx="341.3" cy="96.4" rx="2.75" ry="2.4"/><ellipse cx="339.7" cy="100.7" rx="2.75" ry="2.4"/><ellipse cx="339.0" cy="90.1" rx="2.75" ry="2.4"/><ellipse cx="334.6" cy="82.8" rx="2.75" ry="2.4"/><ellipse cx="337.8" cy="81.4" rx="2.75" ry="2.4"/><ellipse cx="342.4" cy="98.4" rx="2.75" ry="2.4"/><ellipse cx="333.6" cy="77.0" rx="2.75" ry="2.4"/><ellipse cx="321.8" cy="92.0" rx="2.75" ry="2.4"/><ellipse cx="340.7" cy="93.4" rx="2.75" ry="2.4"/><ellipse cx="327.6" cy="90.3" rx="2.75" ry="2.4"/><ellipse cx="336.0" cy="94.4" rx="2.75" ry="2.4"/><ellipse cx="335.3" cy="80.8" rx="2.75" ry="2.4"/><ellipse cx="340.4" cy="106.6" rx="2.75" ry="2.4"/><ellipse cx="336.6" cy="108.7" rx="2.75" ry="2.4"/><ellipse cx="339.3" cy="94.8" rx="2.75" ry="2.4"/><ellipse cx="326.3" cy="92.2" rx="2.75" ry="2.4"/><ellipse cx="333.6" cy="87.5" rx="2.75" ry="2.4"/><ellipse cx="350.5" cy="68.3" rx="2.75" ry="2.4"/><ellipse cx="352.0" cy="74.4" rx="2.75" ry="2.4"/><ellipse cx="347.3" cy="93.7" rx="2.75" ry="2.4"/><ellipse cx="342.9" cy="80.6" rx="2.75" ry="2.4"/><ellipse cx="342.9" cy="83.9" rx="2.75" ry="2.4"/><ellipse cx="343.0" cy="86.7" rx="2.75" ry="2.4"/><ellipse cx="343.4" cy="89.2" rx="2.75" ry="2.4"/><ellipse cx="341.6" cy="91.5" rx="2.75" ry="2.4"/><ellipse cx="330.4" cy="112.7" rx="2.75" ry="2.4"/><ellipse cx="336.1" cy="115.5" rx="2.75" ry="2.4"/><ellipse cx="338.5" cy="117.7" rx="2.75" ry="2.4"/><ellipse cx="350.8" cy="117.4" rx="2.75" ry="2.4"/><ellipse cx="354.9" cy="113.3" rx="2.75" ry="2.4"/><ellipse cx="338.0" cy="133.2" rx="2.75" ry="2.4"/><ellipse cx="344.0" cy="99.9" rx="2.75" ry="2.4"/><ellipse cx="346.7" cy="95.0" rx="2.75" ry="2.4"/></g>
<g fill="#000000"><ellipse cx="294.3" cy="47.3" rx="2.75" ry="2.4"/><ellipse cx="297.3" cy="49.3" rx="2.75" ry="2.4"/><ellipse cx="300.5" cy="50.6" rx="2.75" ry="2.4"/><ellipse cx="303.8" cy="51.4" rx="2.75" ry="2.4"/><ellipse cx="291.4" cy="31.4" rx="2.75" ry="2.4"/><ellipse cx="295.4" cy="31.3" rx="2.75" ry="2.4"/><ellipse cx="300.4" cy="31.4" rx="2.75" ry="2.4"/><ellipse cx="305.1" cy="31.3" rx="2.75" ry="2.4"/><ellipse cx="311.8" cy="30.9" rx="2.75" ry="2.4"/><ellipse cx="291.1" cy="34.5" rx="2.75" ry="2.4"/><ellipse cx="292.9" cy="42.5" rx="2.75" ry="2.4"/><ellipse cx="292.9" cy="45.0" rx="2.75" ry="2.4"/><ellipse cx="302.9" cy="34.2" rx="2.75" ry="2.4"/><ellipse cx="311.0" cy="39.1" rx="2.75" ry="2.4"/><ellipse cx="293.3" cy="32.9" rx="2.75" ry="2.4"/><ellipse cx="306.8" cy="49.5" rx="2.75" ry="2.4"/><ellipse cx="295.3" cy="35.8" rx="2.75" ry="2.4"/><ellipse cx="296.1" cy="33.5" rx="2.75" ry="2.4"/><ellipse cx="302.4" cy="49.2" rx="2.75" ry="2.4"/><ellipse cx="302.6" cy="44.0" rx="2.75" ry="2.4"/><ellipse cx="307.9" cy="37.6" rx="2.75" ry="2.4"/><ellipse cx="310.6" cy="50.6" rx="2.75" ry="2.4"/><ellipse cx="296.4" cy="41.9" rx="2.75" ry="2.4"/><ellipse cx="312.7" cy="41.1" rx="2.75" ry="2.4"/><ellipse cx="308.7" cy="45.8" rx="2.75" ry="2.4"/><ellipse cx="305.3" cy="45.9" rx="2.75" ry="2.4"/><ellipse cx="297.3" cy="36.0" rx="2.75" ry="2.4"/><ellipse cx="299.5" cy="41.8" rx="2.75" ry="2.4"/><ellipse cx="313.0" cy="36.7" rx="2.75" ry="2.4"/><ellipse cx="304.7" cy="43.6" rx="2.75" ry="2.4"/><ellipse cx="305.5" cy="39.8" rx="2.75" ry="2.4"/><ellipse cx="298.6" cy="34.5" rx="2.75" ry="2.4"/><ellipse cx="308.4" cy="41.7" rx="2.75" ry="2.4"/><ellipse cx="303.7" cy="36.8" rx="2.75" ry="2.4"/><ellipse cx="310.7" cy="34.1" rx="2.75" ry="2.4"/><ellipse cx="310.9" cy="48.4" rx="2.75" ry="2.4"/><ellipse cx="300.2" cy="37.4" rx="2.75" ry="2.4"/><ellipse cx="304.1" cy="41.2" rx="2.75" ry="2.4"/><ellipse cx="306.6" cy="51.5" rx="2.75" ry="2.4"/><ellipse cx="307.4" cy="34.9" rx="2.75" ry="2.4"/><ellipse cx="294.6" cy="43.5" rx="2.75" ry="2.4"/><ellipse cx="308.8" cy="52.1" rx="2.75" ry="2.4"/><ellipse cx="296.5" cy="47.0" rx="2.75" ry="2.4"/><ellipse cx="298.1" cy="38.0" rx="2.75" ry="2.4"/><ellipse cx="300.9" cy="33.7" rx="2.75" ry="2.4"/><ellipse cx="310.7" cy="36.2" rx="2.75" ry="2.4"/><ellipse cx="295.7" cy="39.0" rx="2.75" ry="2.4"/><ellipse cx="310.3" cy="41.3" rx="2.75" ry="2.4"/><ellipse cx="310.6" cy="44.0" rx="2.75" ry="2.4"/><ellipse cx="305.4" cy="35.9" rx="2.75" ry="2.4"/><ellipse cx="299.0" cy="48.0" rx="2.75" ry="2.4"/><ellipse cx="309.0" cy="32.0" rx="2.75" ry="2.4"/><ellipse cx="298.9" cy="39.8" rx="2.75" ry="2.4"/><ellipse cx="306.6" cy="44.0" rx="2.75" ry="2.4"/><ellipse cx="294.1" cy="40.8" rx="2.75" ry="2.4"/><ellipse cx="304.3" cy="48.1" rx="2.75" ry="2.4"/><ellipse cx="307.3" cy="47.2" rx="2.75" ry="2.4"/><ellipse cx="301.4" cy="47.0" rx="2.75" ry="2.4"/><ellipse cx="301.4" cy="35.7" rx="2.75" ry="2.4"/><ellipse cx="297.5" cy="31.6" rx="2.75" ry="2.4"/><ellipse cx="306.3" cy="33.1" rx="2.75" ry="2.4"/><ellipse cx="308.8" cy="48.8" rx="2.75" ry="2.4"/><ellipse cx="302.5" cy="32.0" rx="2.75" ry="2.4"/><ellipse cx="312.5" cy="43.5" rx="2.75" ry="2.4"/><ellipse cx="296.6" cy="44.9" rx="2.75" ry="2.4"/><ellipse cx="303.3" cy="46.2" rx="2.75" ry="2.4"/><ellipse cx="305.6" cy="37.9" rx="2.75" ry="2.4"/><ellipse cx="308.9" cy="39.4" rx="2.75" ry="2.4"/><ellipse cx="306.1" cy="42.0" rx="2.75" ry="2.4"/><ellipse cx="302.1" cy="41.8" rx="2.75" ry="2.4"/><ellipse cx="292.9" cy="35.3" rx="2.75" ry="2.4"/><ellipse cx="313.0" cy="38.9" rx="2.75" ry="2.4"/><ellipse cx="280.0" cy="15.7" rx="2.75" ry="2.4"/><ellipse cx="264.9" cy="31.2" rx="2.75" ry="2.4"/><ellipse cx="269.2" cy="43.0" rx="2.75" ry="2.4"/><ellipse cx="289.0" cy="47.2" rx="2.75" ry="2.4"/><ellipse cx="288.8" cy="49.0" rx="2.75" ry="2.4"/><ellipse cx="297.9" cy="58.9" rx="2.75" ry="2.4"/></g>
<text transform="translate(262.10,156.50) scale(1.125,1)" text-anchor="middle" font-size="14">0</text>
<text transform="translate(314.60,156.50) scale(1.125,1)" text-anchor="middle" font-size="14">5000</text>
<text transform="translate(255.00,141.95) scale(1.125,1)" text-anchor="end" font-size="14">-2000</text>
<text transform="translate(255.00,100.33) scale(1.125,1)" text-anchor="end" font-size="14">0</text>
<text transform="translate(255.00,58.72) scale(1.125,1)" text-anchor="end" font-size="14">2000</text>
<text transform="translate(255.00,17.10) scale(1.125,1)" text-anchor="end" font-size="14">4000</text>
<text transform="translate(309.35,178.10) scale(1.16,1)" text-anchor="middle" font-size="14.8">x(m)</text>
<text transform="translate(309.35,197.20) scale(1.15,1)" text-anchor="middle" font-size="14.8">(b)</text>
<text transform="translate(205.90,73.37) rotate(-90) scale(1,1.2)" text-anchor="middle" font-size="15">y(m)</text>
<rect x="450.10" y="10.95" width="94.50" height="124.85" fill="none" stroke="#262626" stroke-width="1"/>
<path d="M450.10 135.80v-1.4M450.10 10.95v1.4M502.60 135.80v-1.4M502.60 10.95v1.4M450.10 135.80h1.4M544.60 135.80h-1.4M450.10 94.18h1.4M544.60 94.18h-1.4M450.10 52.57h1.4M544.60 52.57h-1.4M450.10 10.95h1.4M544.60 10.95h-1.4" stroke="#262626" stroke-width="0.9" fill="none"/>
<g fill="#00ff00"><ellipse cx="458.3" cy="120.5" rx="2.75" ry="2.4"/><ellipse cx="461.0" cy="121.7" rx="2.75" ry="2.4"/><ellipse cx="463.8" cy="120.2" rx="2.75" ry="2.4"/><ellipse cx="457.3" cy="117.5" rx="2.75" ry="2.4"/><ellipse cx="465.6" cy="116.0" rx="2.75" ry="2.4"/><ellipse cx="456.8" cy="114.0" rx="2.75" ry="2.4"/><ellipse cx="475.8" cy="70.3" rx="2.75" ry="2.4"/><ellipse cx="471.4" cy="72.7" rx="2.75" ry="2.4"/><ellipse cx="469.0" cy="76.7" rx="2.75" ry="2.4"/><ellipse cx="478.6" cy="80.4" rx="2.75" ry="2.4"/><ellipse cx="465.1" cy="83.0" rx="2.75" ry="2.4"/><ellipse cx="463.1" cy="87.5" rx="2.75" ry="2.4"/><ellipse cx="477.0" cy="87.8" rx="2.75" ry="2.4"/><ellipse cx="462.7" cy="92.5" rx="2.75" ry="2.4"/><ellipse cx="460.3" cy="98.3" rx="2.75" ry="2.4"/><ellipse cx="456.5" cy="112.6" rx="2.75" ry="2.4"/><ellipse cx="457.3" cy="106.3" rx="2.75" ry="2.4"/><ellipse cx="473.6" cy="87.7" rx="2.75" ry="2.4"/><ellipse cx="475.5" cy="75.9" rx="2.75" ry="2.4"/><ellipse cx="470.7" cy="75.4" rx="2.75" ry="2.4"/><ellipse cx="466.8" cy="100.1" rx="2.75" ry="2.4"/><ellipse cx="458.9" cy="113.6" rx="2.75" ry="2.4"/><ellipse cx="469.9" cy="89.5" rx="2.75" ry="2.4"/><ellipse cx="460.6" cy="115.5" rx="2.75" ry="2.4"/><ellipse cx="471.0" cy="92.8" rx="2.75" ry="2.4"/><ellipse cx="462.6" cy="111.0" rx="2.75" ry="2.4"/><ellipse cx="474.7" cy="79.0" rx="2.75" ry="2.4"/><ellipse cx="468.5" cy="82.3" rx="2.75" ry="2.4"/><ellipse cx="474.1" cy="89.8" rx="2.75" ry="2.4"/><ellipse cx="461.5" cy="107.0" rx="2.75" ry="2.4"/><ellipse cx="462.9" cy="114.5" rx="2.75" ry="2.4"/><ellipse cx="459.6" cy="107.9" rx="2.75" ry="2.4"/><ellipse cx="473.9" cy="82.7" rx="2.75" ry="2.4"/><ellipse cx="468.0" cy="98.1" rx="2.75" ry="2.4"/><ellipse cx="465.1" cy="112.3" rx="2.75" ry="2.4"/><ellipse cx="463.5" cy="94.7" rx="2.75" ry="2.4"/><ellipse cx="467.2" cy="89.8" rx="2.75" ry="2.4"/><ellipse cx="474.4" cy="71.8" rx="2.75" ry="2.4"/><ellipse cx="463.1" cy="108.2" rx="2.75" ry="2.4"/><ellipse cx="471.8" cy="79.4" rx="2.75" ry="2.4"/><ellipse cx="462.5" cy="103.5" rx="2.75" ry="2.4"/><ellipse cx="473.3" cy="74.4" rx="2.75" ry="2.4"/><ellipse cx="471.9" cy="84.3" rx="2.75" ry="2.4"/><ellipse cx="469.0" cy="94.8" rx="2.75" ry="2.4"/><ellipse cx="471.6" cy="87.3" rx="2.75" ry="2.4"/><ellipse cx="460.8" cy="119.0" rx="2.75" ry="2.4"/><ellipse cx="463.3" cy="98.1" rx="2.75" ry="2.4"/><ellipse cx="462.6" cy="100.6" rx="2.75" ry="2.4"/><ellipse cx="468.6" cy="86.4" rx="2.75" ry="2.4"/><ellipse cx="462.8" cy="117.4" rx="2.75" ry="2.4"/><ellipse cx="468.1" cy="92.2" rx="2.75" ry="2.4"/><ellipse cx="466.1" cy="103.3" rx="2.75" ry="2.4"/><ellipse cx="464.8" cy="105.1" rx="2.75" ry="2.4"/><ellipse cx="458.8" cy="105.0" rx="2.75" ry="2.4"/><ellipse cx="466.9" cy="95.9" rx="2.75" ry="2.4"/><ellipse cx="472.0" cy="77.0" rx="2.75" ry="2.4"/><ellipse cx="467.7" cy="101.8" rx="2.75" ry="2.4"/><ellipse cx="466.2" cy="92.9" rx="2.75" ry="2.4"/><ellipse cx="470.1" cy="85.1" rx="2.75" ry="2.4"/><ellipse cx="459.0" cy="110.2" rx="2.75" ry="2.4"/><ellipse cx="464.5" cy="102.1" rx="2.75" ry="2.4"/><ellipse cx="470.6" cy="82.7" rx="2.75" ry="2.4"/><ellipse cx="475.4" cy="86.4" rx="2.75" ry="2.4"/><ellipse cx="464.5" cy="96.4" rx="2.75" ry="2.4"/><ellipse cx="465.9" cy="98.1" rx="2.75" ry="2.4"/><ellipse cx="469.2" cy="79.9" rx="2.75" ry="2.4"/><ellipse cx="465.0" cy="90.2" rx="2.75" ry="2.4"/><ellipse cx="465.1" cy="107.6" rx="2.75" ry="2.4"/><ellipse cx="472.1" cy="90.6" rx="2.75" ry="2.4"/><ellipse cx="460.5" cy="111.9" rx="2.75" ry="2.4"/><ellipse cx="464.7" cy="110.0" rx="2.75" ry="2.4"/><ellipse cx="464.6" cy="99.7" rx="2.75" ry="2.4"/><ellipse cx="474.3" cy="84.7" rx="2.75" ry="2.4"/><ellipse cx="458.5" cy="115.7" rx="2.75" ry="2.4"/><ellipse cx="460.6" cy="104.2" rx="2.75" ry="2.4"/><ellipse cx="461.0" cy="102.1" rx="2.75" ry="2.4"/><ellipse cx="461.2" cy="109.1" rx="2.75" ry="2.4"/><ellipse cx="472.5" cy="81.3" rx="2.75" ry="2.4"/><ellipse cx="462.9" cy="68.3" rx="2.75" ry="2.4"/><ellipse cx="458.5" cy="71.0" rx="2.75" ry="2.4"/><ellipse cx="475.2" cy="67.0" rx="2.75" ry="2.4"/><ellipse cx="480.4" cy="70.1" rx="2.75" ry="2.4"/><ellipse cx="480.9" cy="72.7" rx="2.75" ry="2.4"/><ellipse cx="478.7" cy="80.3" rx="2.75" ry="2.4"/><ellipse cx="465.1" cy="82.5" rx="2.75" ry="2.4"/><ellipse cx="463.5" cy="87.4" rx="2.75" ry="2.4"/><ellipse cx="477.6" cy="87.7" rx="2.75" ry="2.4"/><ellipse cx="480.0" cy="96.7" rx="2.75" ry="2.4"/><ellipse cx="472.2" cy="102.6" rx="2.75" ry="2.4"/><ellipse cx="471.6" cy="104.3" rx="2.75" ry="2.4"/><ellipse cx="472.0" cy="111.4" rx="2.75" ry="2.4"/><ellipse cx="472.2" cy="116.6" rx="2.75" ry="2.4"/><ellipse cx="468.4" cy="117.4" rx="2.75" ry="2.4"/></g>
<g fill="#ff0000"><ellipse cx="517.2" cy="95.5" rx="2.75" ry="2.4"/><ellipse cx="517.3" cy="97.5" rx="2.75" ry="2.4"/><ellipse cx="516.9" cy="99.2" rx="2.75" ry="2.4"/><ellipse cx="514.5" cy="99.3" rx="2.75" ry="2.4"/><ellipse cx="512.5" cy="98.5" rx="2.75" ry="2.4"/><ellipse cx="511.2" cy="96.5" rx="2.75" ry="2.4"/><ellipse cx="522.1" cy="95.0" rx="2.75" ry="2.4"/><ellipse cx="522.1" cy="97.5" rx="2.75" ry="2.4"/><ellipse cx="522.4" cy="99.5" rx="2.75" ry="2.4"/><ellipse cx="522.9" cy="102.0" rx="2.75" ry="2.4"/><ellipse cx="516.9" cy="71.3" rx="2.75" ry="2.4"/><ellipse cx="513.9" cy="74.7" rx="2.75" ry="2.4"/><ellipse cx="523.8" cy="73.4" rx="2.75" ry="2.4"/><ellipse cx="527.0" cy="74.9" rx="2.75" ry="2.4"/><ellipse cx="509.2" cy="89.4" rx="2.75" ry="2.4"/><ellipse cx="509.6" cy="86.6" rx="2.75" ry="2.4"/><ellipse cx="532.5" cy="99.1" rx="2.75" ry="2.4"/><ellipse cx="531.0" cy="100.3" rx="2.75" ry="2.4"/><ellipse cx="527.4" cy="109.8" rx="2.75" ry="2.4"/><ellipse cx="517.7" cy="81.3" rx="2.75" ry="2.4"/><ellipse cx="524.4" cy="76.9" rx="2.75" ry="2.4"/><ellipse cx="516.0" cy="85.1" rx="2.75" ry="2.4"/><ellipse cx="527.0" cy="105.0" rx="2.75" ry="2.4"/><ellipse cx="521.8" cy="79.1" rx="2.75" ry="2.4"/><ellipse cx="526.8" cy="96.9" rx="2.75" ry="2.4"/><ellipse cx="512.4" cy="91.2" rx="2.75" ry="2.4"/><ellipse cx="526.3" cy="93.1" rx="2.75" ry="2.4"/><ellipse cx="523.9" cy="87.3" rx="2.75" ry="2.4"/><ellipse cx="525.0" cy="78.8" rx="2.75" ry="2.4"/><ellipse cx="525.6" cy="85.0" rx="2.75" ry="2.4"/><ellipse cx="526.4" cy="107.8" rx="2.75" ry="2.4"/><ellipse cx="513.7" cy="88.9" rx="2.75" ry="2.4"/><ellipse cx="517.1" cy="74.6" rx="2.75" ry="2.4"/><ellipse cx="524.8" cy="97.0" rx="2.75" ry="2.4"/><ellipse cx="513.8" cy="94.1" rx="2.75" ry="2.4"/><ellipse cx="511.5" cy="93.3" rx="2.75" ry="2.4"/><ellipse cx="528.3" cy="98.2" rx="2.75" ry="2.4"/><ellipse cx="519.3" cy="78.9" rx="2.75" ry="2.4"/><ellipse cx="519.0" cy="93.4" rx="2.75" ry="2.4"/><ellipse cx="513.9" cy="79.0" rx="2.75" ry="2.4"/><ellipse cx="519.7" cy="84.0" rx="2.75" ry="2.4"/><ellipse cx="513.0" cy="86.3" rx="2.75" ry="2.4"/><ellipse cx="514.6" cy="96.5" rx="2.75" ry="2.4"/><ellipse cx="524.2" cy="106.0" rx="2.75" ry="2.4"/><ellipse cx="512.5" cy="80.9" rx="2.75" ry="2.4"/><ellipse cx="525.4" cy="103.1" rx="2.75" ry="2.4"/><ellipse cx="512.0" cy="83.3" rx="2.75" ry="2.4"/><ellipse cx="518.7" cy="91.4" rx="2.75" ry="2.4"/><ellipse cx="525.5" cy="100.2" rx="2.75" ry="2.4"/><ellipse cx="524.6" cy="83.2" rx="2.75" ry="2.4"/><ellipse cx="516.5" cy="88.3" rx="2.75" ry="2.4"/><ellipse cx="517.6" cy="77.3" rx="2.75" ry="2.4"/><ellipse cx="526.7" cy="88.1" rx="2.75" ry="2.4"/><ellipse cx="516.4" cy="92.2" rx="2.75" ry="2.4"/><ellipse cx="514.8" cy="82.8" rx="2.75" ry="2.4"/><ellipse cx="520.3" cy="80.6" rx="2.75" ry="2.4"/><ellipse cx="524.3" cy="89.8" rx="2.75" ry="2.4"/><ellipse cx="522.3" cy="89.4" rx="2.75" ry="2.4"/><ellipse cx="521.4" cy="91.8" rx="2.75" ry="2.4"/><ellipse cx="511.1" cy="88.3" rx="2.75" ry="2.4"/><ellipse cx="523.8" cy="92.4" rx="2.75" ry="2.4"/><ellipse cx="521.5" cy="85.3" rx="2.75" ry="2.4"/><ellipse cx="529.3" cy="96.4" rx="2.75" ry="2.4"/><ellipse cx="527.7" cy="100.7" rx="2.75" ry="2.4"/><ellipse cx="527.0" cy="90.1" rx="2.75" ry="2.4"/><ellipse cx="522.6" cy="82.8" rx="2.75" ry="2.4"/><ellipse cx="517.1" cy="79.2" rx="2.75" ry="2.4"/><ellipse cx="525.8" cy="81.4" rx="2.75" ry="2.4"/><ellipse cx="530.4" cy="98.4" rx="2.75" ry="2.4"/><ellipse cx="521.6" cy="77.0" rx="2.75" ry="2.4"/><ellipse cx="509.8" cy="92.0" rx="2.75" ry="2.4"/><ellipse cx="515.5" cy="80.9" rx="2.75" ry="2.4"/><ellipse cx="515.4" cy="77.5" rx="2.75" ry="2.4"/><ellipse cx="528.7" cy="93.4" rx="2.75" ry="2.4"/><ellipse cx="515.6" cy="90.3" rx="2.75" ry="2.4"/><ellipse cx="524.0" cy="94.4" rx="2.75" ry="2.4"/><ellipse cx="517.2" cy="83.5" rx="2.75" ry="2.4"/><ellipse cx="523.3" cy="80.8" rx="2.75" ry="2.4"/><ellipse cx="515.1" cy="86.9" rx="2.75" ry="2.4"/><ellipse cx="528.4" cy="106.6" rx="2.75" ry="2.4"/><ellipse cx="511.0" cy="85.2" rx="2.75" ry="2.4"/><ellipse cx="524.6" cy="108.7" rx="2.75" ry="2.4"/><ellipse cx="527.3" cy="94.8" rx="2.75" ry="2.4"/><ellipse cx="514.3" cy="92.2" rx="2.75" ry="2.4"/><ellipse cx="521.6" cy="87.5" rx="2.75" ry="2.4"/><ellipse cx="524.8" cy="51.1" rx="2.75" ry="2.4"/><ellipse cx="494.0" cy="95.9" rx="2.75" ry="2.4"/><ellipse cx="493.5" cy="108.6" rx="2.75" ry="2.4"/><ellipse cx="494.5" cy="109.7" rx="2.75" ry="2.4"/><ellipse cx="538.5" cy="68.3" rx="2.75" ry="2.4"/><ellipse cx="540.0" cy="74.4" rx="2.75" ry="2.4"/><ellipse cx="535.3" cy="93.7" rx="2.75" ry="2.4"/><ellipse cx="530.9" cy="80.6" rx="2.75" ry="2.4"/><ellipse cx="530.9" cy="83.9" rx="2.75" ry="2.4"/><ellipse cx="531.0" cy="86.7" rx="2.75" ry="2.4"/><ellipse cx="531.4" cy="89.2" rx="2.75" ry="2.4"/><ellipse cx="529.6" cy="91.5" rx="2.75" ry="2.4"/><ellipse cx="518.4" cy="112.7" rx="2.75" ry="2.4"/><ellipse cx="524.1" cy="115.5" rx="2.75" ry="2.4"/><ellipse cx="526.5" cy="117.7" rx="2.75" ry="2.4"/><ellipse cx="538.8" cy="117.4" rx="2.75" ry="2.4"/><ellipse cx="542.9" cy="113.3" rx="2.75" ry="2.4"/><ellipse cx="526.0" cy="133.2" rx="2.75" ry="2.4"/><ellipse cx="532.0" cy="99.9" rx="2.75" ry="2.4"/><ellipse cx="534.7" cy="95.0" rx="2.75" ry="2.4"/></g>
<g fill="#000000"><ellipse cx="482.3" cy="47.3" rx="2.75" ry="2.4"/><ellipse cx="485.3" cy="49.3" rx="2.75" ry="2.4"/><ellipse cx="488.5" cy="50.6" rx="2.75" ry="2.4"/><ellipse cx="491.8" cy="51.4" rx="2.75" ry="2.4"/><ellipse cx="479.4" cy="31.4" rx="2.75" ry="2.4"/><ellipse cx="483.4" cy="31.3" rx="2.75" ry="2.4"/><ellipse cx="488.4" cy="31.4" rx="2.75" ry="2.4"/><ellipse cx="493.1" cy="31.3" rx="2.75" ry="2.4"/><ellipse cx="499.8" cy="30.9" rx="2.75" ry="2.4"/><ellipse cx="505.2" cy="32.5" rx="2.75" ry="2.4"/><ellipse cx="509.5" cy="31.7" rx="2.75" ry="2.4"/><ellipse cx="512.5" cy="32.1" rx="2.75" ry="2.4"/><ellipse cx="516.2" cy="33.6" rx="2.75" ry="2.4"/><ellipse cx="511.8" cy="35.9" rx="2.75" ry="2.4"/><ellipse cx="516.2" cy="43.8" rx="2.75" ry="2.4"/><ellipse cx="515.2" cy="48.5" rx="2.75" ry="2.4"/><ellipse cx="502.9" cy="53.2" rx="2.75" ry="2.4"/><ellipse cx="508.3" cy="52.5" rx="2.75" ry="2.4"/><ellipse cx="512.2" cy="51.3" rx="2.75" ry="2.4"/><ellipse cx="514.0" cy="50.2" rx="2.75" ry="2.4"/><ellipse cx="479.1" cy="34.5" rx="2.75" ry="2.4"/><ellipse cx="480.9" cy="42.5" rx="2.75" ry="2.4"/><ellipse cx="480.9" cy="45.0" rx="2.75" ry="2.4"/><ellipse cx="490.9" cy="34.2" rx="2.75" ry="2.4"/><ellipse cx="499.0" cy="39.1" rx="2.75" ry="2.4"/><ellipse cx="481.3" cy="32.9" rx="2.75" ry="2.4"/><ellipse cx="494.8" cy="49.5" rx="2.75" ry="2.4"/><ellipse cx="483.3" cy="35.8" rx="2.75" ry="2.4"/><ellipse cx="484.1" cy="33.5" rx="2.75" ry="2.4"/><ellipse cx="490.4" cy="49.2" rx="2.75" ry="2.4"/><ellipse cx="502.9" cy="39.2" rx="2.75" ry="2.4"/><ellipse cx="504.5" cy="40.5" rx="2.75" ry="2.4"/><ellipse cx="490.6" cy="44.0" rx="2.75" ry="2.4"/><ellipse cx="495.9" cy="37.6" rx="2.75" ry="2.4"/><ellipse cx="498.6" cy="50.6" rx="2.75" ry="2.4"/><ellipse cx="506.4" cy="37.3" rx="2.75" ry="2.4"/><ellipse cx="484.4" cy="41.9" rx="2.75" ry="2.4"/><ellipse cx="507.7" cy="43.8" rx="2.75" ry="2.4"/><ellipse cx="505.1" cy="44.2" rx="2.75" ry="2.4"/><ellipse cx="500.7" cy="41.1" rx="2.75" ry="2.4"/><ellipse cx="496.7" cy="45.8" rx="2.75" ry="2.4"/><ellipse cx="493.3" cy="45.9" rx="2.75" ry="2.4"/><ellipse cx="485.3" cy="36.0" rx="2.75" ry="2.4"/><ellipse cx="487.5" cy="41.8" rx="2.75" ry="2.4"/><ellipse cx="501.0" cy="36.7" rx="2.75" ry="2.4"/><ellipse cx="492.7" cy="43.6" rx="2.75" ry="2.4"/><ellipse cx="514.9" cy="46.4" rx="2.75" ry="2.4"/><ellipse cx="493.5" cy="39.8" rx="2.75" ry="2.4"/><ellipse cx="486.6" cy="34.5" rx="2.75" ry="2.4"/><ellipse cx="502.0" cy="34.2" rx="2.75" ry="2.4"/><ellipse cx="496.4" cy="41.7" rx="2.75" ry="2.4"/><ellipse cx="491.7" cy="36.8" rx="2.75" ry="2.4"/><ellipse cx="498.7" cy="34.1" rx="2.75" ry="2.4"/><ellipse cx="498.9" cy="48.4" rx="2.75" ry="2.4"/><ellipse cx="502.4" cy="51.1" rx="2.75" ry="2.4"/><ellipse cx="510.6" cy="41.6" rx="2.75" ry="2.4"/><ellipse cx="507.2" cy="41.6" rx="2.75" ry="2.4"/><ellipse cx="488.2" cy="37.4" rx="2.75" ry="2.4"/><ellipse cx="492.1" cy="41.2" rx="2.75" ry="2.4"/><ellipse cx="494.6" cy="51.5" rx="2.75" ry="2.4"/><ellipse cx="495.4" cy="34.9" rx="2.75" ry="2.4"/><ellipse cx="482.6" cy="43.5" rx="2.75" ry="2.4"/><ellipse cx="496.8" cy="52.1" rx="2.75" ry="2.4"/><ellipse cx="499.9" cy="52.1" rx="2.75" ry="2.4"/><ellipse cx="510.6" cy="33.9" rx="2.75" ry="2.4"/><ellipse cx="484.5" cy="47.0" rx="2.75" ry="2.4"/><ellipse cx="486.1" cy="38.0" rx="2.75" ry="2.4"/><ellipse cx="502.4" cy="42.4" rx="2.75" ry="2.4"/><ellipse cx="488.9" cy="33.7" rx="2.75" ry="2.4"/><ellipse cx="500.3" cy="46.6" rx="2.75" ry="2.4"/><ellipse cx="498.7" cy="36.2" rx="2.75" ry="2.4"/><ellipse cx="514.2" cy="33.2" rx="2.75" ry="2.4"/><ellipse cx="507.2" cy="45.7" rx="2.75" ry="2.4"/><ellipse cx="512.6" cy="45.0" rx="2.75" ry="2.4"/><ellipse cx="483.7" cy="39.0" rx="2.75" ry="2.4"/><ellipse cx="502.5" cy="46.2" rx="2.75" ry="2.4"/><ellipse cx="504.3" cy="37.4" rx="2.75" ry="2.4"/><ellipse cx="498.3" cy="41.3" rx="2.75" ry="2.4"/><ellipse cx="512.7" cy="41.5" rx="2.75" ry="2.4"/><ellipse cx="498.6" cy="44.0" rx="2.75" ry="2.4"/><ellipse cx="493.4" cy="35.9" rx="2.75" ry="2.4"/><ellipse cx="504.6" cy="35.3" rx="2.75" ry="2.4"/><ellipse cx="487.0" cy="48.0" rx="2.75" ry="2.4"/><ellipse cx="509.4" cy="45.6" rx="2.75" ry="2.4"/><ellipse cx="497.0" cy="32.0" rx="2.75" ry="2.4"/><ellipse cx="486.9" cy="39.8" rx="2.75" ry="2.4"/><ellipse cx="494.6" cy="44.0" rx="2.75" ry="2.4"/><ellipse cx="482.1" cy="40.8" rx="2.75" ry="2.4"/><ellipse cx="492.3" cy="48.1" rx="2.75" ry="2.4"/><ellipse cx="495.3" cy="47.2" rx="2.75" ry="2.4"/><ellipse cx="489.4" cy="47.0" rx="2.75" ry="2.4"/><ellipse cx="489.4" cy="35.7" rx="2.75" ry="2.4"/><ellipse cx="508.2" cy="39.6" rx="2.75" ry="2.4"/><ellipse cx="514.4" cy="42.7" rx="2.75" ry="2.4"/><ellipse cx="510.4" cy="38.8" rx="2.75" ry="2.4"/><ellipse cx="501.8" cy="48.5" rx="2.75" ry="2.4"/><ellipse cx="507.7" cy="33.1" rx="2.75" ry="2.4"/><ellipse cx="485.5" cy="31.6" rx="2.75" ry="2.4"/><ellipse cx="494.3" cy="33.1" rx="2.75" ry="2.4"/><ellipse cx="510.7" cy="44.0" rx="2.75" ry="2.4"/><ellipse cx="496.8" cy="48.8" rx="2.75" ry="2.4"/><ellipse cx="490.5" cy="32.0" rx="2.75" ry="2.4"/><ellipse cx="500.5" cy="43.5" rx="2.75" ry="2.4"/><ellipse cx="484.6" cy="44.9" rx="2.75" ry="2.4"/><ellipse cx="491.3" cy="46.2" rx="2.75" ry="2.4"/><ellipse cx="493.6" cy="37.9" rx="2.75" ry="2.4"/><ellipse cx="496.9" cy="39.4" rx="2.75" ry="2.4"/><ellipse cx="503.1" cy="44.2" rx="2.75" ry="2.4"/><ellipse cx="494.1" cy="42.0" rx="2.75" ry="2.4"/><ellipse cx="490.1" cy="41.8" rx="2.75" ry="2.4"/><ellipse cx="480.9" cy="35.3" rx="2.75" ry="2.4"/><ellipse cx="510.2" cy="51.7" rx="2.75" ry="2.4"/><ellipse cx="504.1" cy="50.3" rx="2.75" ry="2.4"/><ellipse cx="501.0" cy="38.9" rx="2.75" ry="2.4"/><ellipse cx="468.0" cy="15.7" rx="2.75" ry="2.4"/><ellipse cx="452.9" cy="31.2" rx="2.75" ry="2.4"/><ellipse cx="457.2" cy="43.0" rx="2.75" ry="2.4"/><ellipse cx="477.0" cy="47.2" rx="2.75" ry="2.4"/><ellipse cx="476.8" cy="49.0" rx="2.75" ry="2.4"/><ellipse cx="527.1" cy="24.1" rx="2.75" ry="2.4"/><ellipse cx="543.7" cy="24.8" rx="2.75" ry="2.4"/><ellipse cx="485.9" cy="58.9" rx="2.75" ry="2.4"/><ellipse cx="509.2" cy="28.2" rx="2.75" ry="2.4"/></g>
<text transform="translate(450.10,156.50) scale(1.125,1)" text-anchor="middle" font-size="14">0</text>
<text transform="translate(502.60,156.50) scale(1.125,1)" text-anchor="middle" font-size="14">5000</text>
<text transform="translate(443.00,141.95) scale(1.125,1)" text-anchor="end" font-size="14">-2000</text>
<text transform="translate(443.00,100.33) scale(1.125,1)" text-anchor="end" font-size="14">0</text>
<text transform="translate(443.00,58.72) scale(1.125,1)" text-anchor="end" font-size="14">2000</text>
<text transform="translate(443.00,17.10) scale(1.125,1)" text-anchor="end" font-size="14">4000</text>
<text transform="translate(497.35,178.10) scale(1.16,1)" text-anchor="middle" font-size="14.8">x(m)</text>
<text transform="translate(497.35,197.20) scale(1.15,1)" text-anchor="middle" font-size="14.8">(c)</text>
<text transform="translate(393.90,73.37) rotate(-90) scale(1,1.2)" text-anchor="middle" font-size="15">y(m)</text>
<rect x="74.10" y="222.75" width="94.50" height="124.30" fill="none" stroke="#262626" stroke-width="1"/>
<path d="M74.10 347.05v-1.4M74.10 222.75v1.4M126.60 347.05v-1.4M126.60 222.75v1.4M74.10 347.05h1.4M168.60 347.05h-1.4M74.10 305.62h1.4M168.60 305.62h-1.4M74.10 264.18h1.4M168.60 264.18h-1.4M74.10 222.75h1.4M168.60 222.75h-1.4" stroke="#262626" stroke-width="0.9" fill="none"/>
<g fill="#00ff00"><ellipse cx="82.3" cy="331.8" rx="2.75" ry="2.4"/><ellipse cx="85.0" cy="333.0" rx="2.75" ry="2.4"/><ellipse cx="87.8" cy="331.5" rx="2.75" ry="2.4"/><ellipse cx="81.3" cy="328.8" rx="2.75" ry="2.4"/><ellipse cx="89.6" cy="327.3" rx="2.75" ry="2.4"/><ellipse cx="80.8" cy="325.3" rx="2.75" ry="2.4"/><ellipse cx="99.8" cy="281.8" rx="2.75" ry="2.4"/><ellipse cx="95.4" cy="284.2" rx="2.75" ry="2.4"/><ellipse cx="93.0" cy="288.2" rx="2.75" ry="2.4"/><ellipse cx="102.6" cy="291.9" rx="2.75" ry="2.4"/><ellipse cx="89.1" cy="294.5" rx="2.75" ry="2.4"/><ellipse cx="87.1" cy="299.0" rx="2.75" ry="2.4"/><ellipse cx="101.0" cy="299.3" rx="2.75" ry="2.4"/><ellipse cx="86.7" cy="303.9" rx="2.75" ry="2.4"/><ellipse cx="84.3" cy="309.7" rx="2.75" ry="2.4"/><ellipse cx="80.5" cy="324.0" rx="2.75" ry="2.4"/><ellipse cx="81.3" cy="317.7" rx="2.75" ry="2.4"/><ellipse cx="97.6" cy="299.2" rx="2.75" ry="2.4"/><ellipse cx="99.5" cy="287.4" rx="2.75" ry="2.4"/><ellipse cx="94.7" cy="286.9" rx="2.75" ry="2.4"/><ellipse cx="90.8" cy="311.5" rx="2.75" ry="2.4"/><ellipse cx="82.9" cy="325.0" rx="2.75" ry="2.4"/><ellipse cx="93.9" cy="301.0" rx="2.75" ry="2.4"/><ellipse cx="84.6" cy="326.8" rx="2.75" ry="2.4"/><ellipse cx="95.0" cy="304.3" rx="2.75" ry="2.4"/><ellipse cx="86.6" cy="322.4" rx="2.75" ry="2.4"/><ellipse cx="98.7" cy="290.5" rx="2.75" ry="2.4"/><ellipse cx="92.5" cy="293.8" rx="2.75" ry="2.4"/><ellipse cx="98.1" cy="301.3" rx="2.75" ry="2.4"/><ellipse cx="85.5" cy="318.3" rx="2.75" ry="2.4"/><ellipse cx="86.9" cy="325.8" rx="2.75" ry="2.4"/><ellipse cx="83.6" cy="319.2" rx="2.75" ry="2.4"/><ellipse cx="97.9" cy="294.2" rx="2.75" ry="2.4"/><ellipse cx="92.0" cy="309.5" rx="2.75" ry="2.4"/><ellipse cx="89.1" cy="323.7" rx="2.75" ry="2.4"/><ellipse cx="87.5" cy="306.2" rx="2.75" ry="2.4"/><ellipse cx="91.2" cy="301.2" rx="2.75" ry="2.4"/><ellipse cx="98.4" cy="283.3" rx="2.75" ry="2.4"/><ellipse cx="87.1" cy="319.5" rx="2.75" ry="2.4"/><ellipse cx="95.8" cy="290.9" rx="2.75" ry="2.4"/><ellipse cx="86.5" cy="314.9" rx="2.75" ry="2.4"/><ellipse cx="97.3" cy="285.9" rx="2.75" ry="2.4"/><ellipse cx="95.9" cy="295.8" rx="2.75" ry="2.4"/><ellipse cx="93.0" cy="306.2" rx="2.75" ry="2.4"/><ellipse cx="95.6" cy="298.8" rx="2.75" ry="2.4"/><ellipse cx="84.8" cy="330.3" rx="2.75" ry="2.4"/><ellipse cx="87.3" cy="309.5" rx="2.75" ry="2.4"/><ellipse cx="86.6" cy="312.0" rx="2.75" ry="2.4"/><ellipse cx="92.6" cy="297.8" rx="2.75" ry="2.4"/><ellipse cx="86.8" cy="328.8" rx="2.75" ry="2.4"/><ellipse cx="92.1" cy="303.6" rx="2.75" ry="2.4"/><ellipse cx="90.1" cy="314.7" rx="2.75" ry="2.4"/><ellipse cx="88.8" cy="316.5" rx="2.75" ry="2.4"/><ellipse cx="82.8" cy="316.3" rx="2.75" ry="2.4"/><ellipse cx="90.9" cy="307.3" rx="2.75" ry="2.4"/><ellipse cx="96.0" cy="288.5" rx="2.75" ry="2.4"/><ellipse cx="91.7" cy="313.2" rx="2.75" ry="2.4"/><ellipse cx="90.2" cy="304.3" rx="2.75" ry="2.4"/><ellipse cx="94.1" cy="296.6" rx="2.75" ry="2.4"/><ellipse cx="83.0" cy="321.5" rx="2.75" ry="2.4"/><ellipse cx="88.5" cy="313.5" rx="2.75" ry="2.4"/><ellipse cx="94.6" cy="294.1" rx="2.75" ry="2.4"/><ellipse cx="99.4" cy="297.8" rx="2.75" ry="2.4"/><ellipse cx="88.5" cy="307.8" rx="2.75" ry="2.4"/><ellipse cx="89.9" cy="309.5" rx="2.75" ry="2.4"/><ellipse cx="93.2" cy="291.4" rx="2.75" ry="2.4"/><ellipse cx="89.0" cy="301.7" rx="2.75" ry="2.4"/><ellipse cx="89.1" cy="318.9" rx="2.75" ry="2.4"/><ellipse cx="96.1" cy="302.0" rx="2.75" ry="2.4"/><ellipse cx="84.5" cy="323.3" rx="2.75" ry="2.4"/><ellipse cx="88.7" cy="321.3" rx="2.75" ry="2.4"/><ellipse cx="88.6" cy="311.1" rx="2.75" ry="2.4"/><ellipse cx="98.3" cy="296.1" rx="2.75" ry="2.4"/><ellipse cx="82.5" cy="327.1" rx="2.75" ry="2.4"/><ellipse cx="84.6" cy="315.6" rx="2.75" ry="2.4"/><ellipse cx="85.0" cy="313.5" rx="2.75" ry="2.4"/><ellipse cx="85.2" cy="320.5" rx="2.75" ry="2.4"/><ellipse cx="96.5" cy="292.8" rx="2.75" ry="2.4"/><ellipse cx="86.9" cy="279.8" rx="2.75" ry="2.4"/><ellipse cx="82.5" cy="282.5" rx="2.75" ry="2.4"/><ellipse cx="99.2" cy="278.6" rx="2.75" ry="2.4"/><ellipse cx="104.4" cy="281.6" rx="2.75" ry="2.4"/><ellipse cx="104.9" cy="284.2" rx="2.75" ry="2.4"/><ellipse cx="102.7" cy="291.8" rx="2.75" ry="2.4"/><ellipse cx="89.1" cy="294.0" rx="2.75" ry="2.4"/><ellipse cx="87.5" cy="298.9" rx="2.75" ry="2.4"/><ellipse cx="101.6" cy="299.2" rx="2.75" ry="2.4"/><ellipse cx="104.0" cy="308.1" rx="2.75" ry="2.4"/><ellipse cx="118.0" cy="307.3" rx="2.75" ry="2.4"/><ellipse cx="117.5" cy="320.0" rx="2.75" ry="2.4"/><ellipse cx="118.5" cy="321.1" rx="2.75" ry="2.4"/><ellipse cx="96.2" cy="314.0" rx="2.75" ry="2.4"/><ellipse cx="95.6" cy="315.7" rx="2.75" ry="2.4"/><ellipse cx="96.0" cy="322.8" rx="2.75" ry="2.4"/><ellipse cx="96.2" cy="327.9" rx="2.75" ry="2.4"/><ellipse cx="92.4" cy="328.7" rx="2.75" ry="2.4"/></g>
<g fill="#ff0000"><ellipse cx="141.2" cy="306.9" rx="2.75" ry="2.4"/><ellipse cx="141.3" cy="308.9" rx="2.75" ry="2.4"/><ellipse cx="140.9" cy="310.6" rx="2.75" ry="2.4"/><ellipse cx="138.5" cy="310.7" rx="2.75" ry="2.4"/><ellipse cx="136.5" cy="309.9" rx="2.75" ry="2.4"/><ellipse cx="135.2" cy="307.9" rx="2.75" ry="2.4"/><ellipse cx="146.1" cy="306.4" rx="2.75" ry="2.4"/><ellipse cx="146.1" cy="308.9" rx="2.75" ry="2.4"/><ellipse cx="146.4" cy="310.9" rx="2.75" ry="2.4"/><ellipse cx="146.9" cy="313.4" rx="2.75" ry="2.4"/><ellipse cx="140.9" cy="282.8" rx="2.75" ry="2.4"/><ellipse cx="137.9" cy="286.2" rx="2.75" ry="2.4"/><ellipse cx="147.8" cy="284.9" rx="2.75" ry="2.4"/><ellipse cx="151.0" cy="286.4" rx="2.75" ry="2.4"/><ellipse cx="133.2" cy="300.9" rx="2.75" ry="2.4"/><ellipse cx="133.6" cy="298.1" rx="2.75" ry="2.4"/><ellipse cx="156.5" cy="310.5" rx="2.75" ry="2.4"/><ellipse cx="155.0" cy="311.7" rx="2.75" ry="2.4"/><ellipse cx="151.4" cy="321.2" rx="2.75" ry="2.4"/><ellipse cx="141.7" cy="292.8" rx="2.75" ry="2.4"/><ellipse cx="148.4" cy="288.4" rx="2.75" ry="2.4"/><ellipse cx="140.0" cy="296.5" rx="2.75" ry="2.4"/><ellipse cx="151.0" cy="316.4" rx="2.75" ry="2.4"/><ellipse cx="145.8" cy="290.6" rx="2.75" ry="2.4"/><ellipse cx="150.8" cy="308.3" rx="2.75" ry="2.4"/><ellipse cx="136.4" cy="302.7" rx="2.75" ry="2.4"/><ellipse cx="150.3" cy="304.5" rx="2.75" ry="2.4"/><ellipse cx="147.9" cy="298.8" rx="2.75" ry="2.4"/><ellipse cx="149.0" cy="290.3" rx="2.75" ry="2.4"/><ellipse cx="149.6" cy="296.4" rx="2.75" ry="2.4"/><ellipse cx="150.4" cy="319.2" rx="2.75" ry="2.4"/><ellipse cx="137.7" cy="300.3" rx="2.75" ry="2.4"/><ellipse cx="141.1" cy="286.1" rx="2.75" ry="2.4"/><ellipse cx="148.8" cy="308.4" rx="2.75" ry="2.4"/><ellipse cx="137.8" cy="305.6" rx="2.75" ry="2.4"/><ellipse cx="135.5" cy="304.7" rx="2.75" ry="2.4"/><ellipse cx="152.3" cy="309.6" rx="2.75" ry="2.4"/><ellipse cx="143.3" cy="290.4" rx="2.75" ry="2.4"/><ellipse cx="143.0" cy="304.9" rx="2.75" ry="2.4"/><ellipse cx="137.9" cy="290.5" rx="2.75" ry="2.4"/><ellipse cx="143.7" cy="295.4" rx="2.75" ry="2.4"/><ellipse cx="137.0" cy="297.8" rx="2.75" ry="2.4"/><ellipse cx="138.6" cy="307.9" rx="2.75" ry="2.4"/><ellipse cx="148.2" cy="317.3" rx="2.75" ry="2.4"/><ellipse cx="136.5" cy="292.4" rx="2.75" ry="2.4"/><ellipse cx="149.4" cy="314.4" rx="2.75" ry="2.4"/><ellipse cx="136.0" cy="294.8" rx="2.75" ry="2.4"/><ellipse cx="142.7" cy="302.8" rx="2.75" ry="2.4"/><ellipse cx="149.5" cy="311.6" rx="2.75" ry="2.4"/><ellipse cx="148.6" cy="294.7" rx="2.75" ry="2.4"/><ellipse cx="140.5" cy="299.8" rx="2.75" ry="2.4"/><ellipse cx="141.6" cy="288.8" rx="2.75" ry="2.4"/><ellipse cx="150.7" cy="299.5" rx="2.75" ry="2.4"/><ellipse cx="140.4" cy="303.6" rx="2.75" ry="2.4"/><ellipse cx="138.8" cy="294.3" rx="2.75" ry="2.4"/><ellipse cx="144.3" cy="292.1" rx="2.75" ry="2.4"/><ellipse cx="148.3" cy="301.2" rx="2.75" ry="2.4"/><ellipse cx="146.3" cy="300.9" rx="2.75" ry="2.4"/><ellipse cx="145.4" cy="303.2" rx="2.75" ry="2.4"/><ellipse cx="135.1" cy="299.7" rx="2.75" ry="2.4"/><ellipse cx="147.8" cy="303.9" rx="2.75" ry="2.4"/><ellipse cx="145.5" cy="296.8" rx="2.75" ry="2.4"/><ellipse cx="153.3" cy="307.8" rx="2.75" ry="2.4"/><ellipse cx="151.7" cy="312.1" rx="2.75" ry="2.4"/><ellipse cx="151.0" cy="301.6" rx="2.75" ry="2.4"/><ellipse cx="146.6" cy="294.3" rx="2.75" ry="2.4"/><ellipse cx="141.1" cy="290.7" rx="2.75" ry="2.4"/><ellipse cx="149.8" cy="292.9" rx="2.75" ry="2.4"/><ellipse cx="154.4" cy="309.8" rx="2.75" ry="2.4"/><ellipse cx="145.6" cy="288.5" rx="2.75" ry="2.4"/><ellipse cx="133.8" cy="303.4" rx="2.75" ry="2.4"/><ellipse cx="139.5" cy="292.4" rx="2.75" ry="2.4"/><ellipse cx="139.4" cy="289.0" rx="2.75" ry="2.4"/><ellipse cx="152.7" cy="304.8" rx="2.75" ry="2.4"/><ellipse cx="139.6" cy="301.8" rx="2.75" ry="2.4"/><ellipse cx="148.0" cy="305.8" rx="2.75" ry="2.4"/><ellipse cx="141.2" cy="295.0" rx="2.75" ry="2.4"/><ellipse cx="147.3" cy="292.3" rx="2.75" ry="2.4"/><ellipse cx="139.1" cy="298.4" rx="2.75" ry="2.4"/><ellipse cx="152.4" cy="318.0" rx="2.75" ry="2.4"/><ellipse cx="135.0" cy="296.6" rx="2.75" ry="2.4"/><ellipse cx="148.6" cy="320.1" rx="2.75" ry="2.4"/><ellipse cx="151.3" cy="306.2" rx="2.75" ry="2.4"/><ellipse cx="138.3" cy="303.6" rx="2.75" ry="2.4"/><ellipse cx="145.6" cy="298.9" rx="2.75" ry="2.4"/><ellipse cx="162.5" cy="279.8" rx="2.75" ry="2.4"/><ellipse cx="164.0" cy="285.9" rx="2.75" ry="2.4"/><ellipse cx="159.3" cy="305.1" rx="2.75" ry="2.4"/><ellipse cx="154.9" cy="292.1" rx="2.75" ry="2.4"/><ellipse cx="154.9" cy="295.4" rx="2.75" ry="2.4"/><ellipse cx="155.0" cy="298.2" rx="2.75" ry="2.4"/><ellipse cx="155.4" cy="300.7" rx="2.75" ry="2.4"/><ellipse cx="153.6" cy="302.9" rx="2.75" ry="2.4"/><ellipse cx="142.4" cy="324.1" rx="2.75" ry="2.4"/><ellipse cx="148.1" cy="326.8" rx="2.75" ry="2.4"/><ellipse cx="150.5" cy="329.0" rx="2.75" ry="2.4"/><ellipse cx="162.8" cy="328.7" rx="2.75" ry="2.4"/><ellipse cx="166.9" cy="324.6" rx="2.75" ry="2.4"/><ellipse cx="150.0" cy="344.5" rx="2.75" ry="2.4"/><ellipse cx="156.0" cy="311.3" rx="2.75" ry="2.4"/><ellipse cx="158.7" cy="306.4" rx="2.75" ry="2.4"/></g>
<g fill="#000000"><ellipse cx="106.3" cy="258.9" rx="2.75" ry="2.4"/><ellipse cx="109.3" cy="260.9" rx="2.75" ry="2.4"/><ellipse cx="112.5" cy="262.2" rx="2.75" ry="2.4"/><ellipse cx="115.8" cy="263.0" rx="2.75" ry="2.4"/><ellipse cx="103.4" cy="243.1" rx="2.75" ry="2.4"/><ellipse cx="107.4" cy="243.0" rx="2.75" ry="2.4"/><ellipse cx="112.4" cy="243.1" rx="2.75" ry="2.4"/><ellipse cx="117.1" cy="243.0" rx="2.75" ry="2.4"/><ellipse cx="123.8" cy="242.6" rx="2.75" ry="2.4"/><ellipse cx="129.2" cy="244.2" rx="2.75" ry="2.4"/><ellipse cx="133.5" cy="243.4" rx="2.75" ry="2.4"/><ellipse cx="136.5" cy="243.8" rx="2.75" ry="2.4"/><ellipse cx="140.2" cy="245.3" rx="2.75" ry="2.4"/><ellipse cx="135.8" cy="247.6" rx="2.75" ry="2.4"/><ellipse cx="140.2" cy="255.5" rx="2.75" ry="2.4"/><ellipse cx="139.2" cy="260.1" rx="2.75" ry="2.4"/><ellipse cx="126.9" cy="264.8" rx="2.75" ry="2.4"/><ellipse cx="132.3" cy="264.1" rx="2.75" ry="2.4"/><ellipse cx="136.2" cy="262.9" rx="2.75" ry="2.4"/><ellipse cx="138.0" cy="261.8" rx="2.75" ry="2.4"/><ellipse cx="103.1" cy="246.2" rx="2.75" ry="2.4"/><ellipse cx="104.9" cy="254.2" rx="2.75" ry="2.4"/><ellipse cx="104.9" cy="256.6" rx="2.75" ry="2.4"/><ellipse cx="114.9" cy="245.9" rx="2.75" ry="2.4"/><ellipse cx="123.0" cy="250.7" rx="2.75" ry="2.4"/><ellipse cx="105.3" cy="244.6" rx="2.75" ry="2.4"/><ellipse cx="118.8" cy="261.1" rx="2.75" ry="2.4"/><ellipse cx="107.3" cy="247.5" rx="2.75" ry="2.4"/><ellipse cx="108.1" cy="245.2" rx="2.75" ry="2.4"/><ellipse cx="114.4" cy="260.9" rx="2.75" ry="2.4"/><ellipse cx="126.9" cy="250.9" rx="2.75" ry="2.4"/><ellipse cx="128.5" cy="252.1" rx="2.75" ry="2.4"/><ellipse cx="114.6" cy="255.7" rx="2.75" ry="2.4"/><ellipse cx="119.9" cy="249.3" rx="2.75" ry="2.4"/><ellipse cx="122.6" cy="262.2" rx="2.75" ry="2.4"/><ellipse cx="130.4" cy="249.0" rx="2.75" ry="2.4"/><ellipse cx="108.4" cy="253.5" rx="2.75" ry="2.4"/><ellipse cx="131.7" cy="255.4" rx="2.75" ry="2.4"/><ellipse cx="129.1" cy="255.9" rx="2.75" ry="2.4"/><ellipse cx="124.7" cy="252.8" rx="2.75" ry="2.4"/><ellipse cx="120.7" cy="257.5" rx="2.75" ry="2.4"/><ellipse cx="117.3" cy="257.6" rx="2.75" ry="2.4"/><ellipse cx="109.3" cy="247.7" rx="2.75" ry="2.4"/><ellipse cx="111.5" cy="253.4" rx="2.75" ry="2.4"/><ellipse cx="125.0" cy="248.4" rx="2.75" ry="2.4"/><ellipse cx="116.7" cy="255.3" rx="2.75" ry="2.4"/><ellipse cx="138.9" cy="258.0" rx="2.75" ry="2.4"/><ellipse cx="117.5" cy="251.5" rx="2.75" ry="2.4"/><ellipse cx="110.6" cy="246.2" rx="2.75" ry="2.4"/><ellipse cx="126.0" cy="245.9" rx="2.75" ry="2.4"/><ellipse cx="120.4" cy="253.4" rx="2.75" ry="2.4"/><ellipse cx="115.7" cy="248.5" rx="2.75" ry="2.4"/><ellipse cx="122.7" cy="245.8" rx="2.75" ry="2.4"/><ellipse cx="122.9" cy="260.0" rx="2.75" ry="2.4"/><ellipse cx="126.4" cy="262.8" rx="2.75" ry="2.4"/><ellipse cx="134.6" cy="253.3" rx="2.75" ry="2.4"/><ellipse cx="131.2" cy="253.3" rx="2.75" ry="2.4"/><ellipse cx="112.2" cy="249.1" rx="2.75" ry="2.4"/><ellipse cx="116.1" cy="252.8" rx="2.75" ry="2.4"/><ellipse cx="118.6" cy="263.2" rx="2.75" ry="2.4"/><ellipse cx="119.4" cy="246.6" rx="2.75" ry="2.4"/><ellipse cx="106.6" cy="255.1" rx="2.75" ry="2.4"/><ellipse cx="120.8" cy="263.7" rx="2.75" ry="2.4"/><ellipse cx="123.9" cy="263.7" rx="2.75" ry="2.4"/><ellipse cx="134.6" cy="245.6" rx="2.75" ry="2.4"/><ellipse cx="108.5" cy="258.6" rx="2.75" ry="2.4"/><ellipse cx="110.1" cy="249.7" rx="2.75" ry="2.4"/><ellipse cx="126.4" cy="254.0" rx="2.75" ry="2.4"/><ellipse cx="112.9" cy="245.4" rx="2.75" ry="2.4"/><ellipse cx="124.3" cy="258.3" rx="2.75" ry="2.4"/><ellipse cx="122.7" cy="247.9" rx="2.75" ry="2.4"/><ellipse cx="138.2" cy="244.9" rx="2.75" ry="2.4"/><ellipse cx="131.2" cy="257.3" rx="2.75" ry="2.4"/><ellipse cx="136.6" cy="256.6" rx="2.75" ry="2.4"/><ellipse cx="107.7" cy="250.6" rx="2.75" ry="2.4"/><ellipse cx="126.5" cy="257.8" rx="2.75" ry="2.4"/><ellipse cx="128.3" cy="249.1" rx="2.75" ry="2.4"/><ellipse cx="122.3" cy="253.0" rx="2.75" ry="2.4"/><ellipse cx="136.7" cy="253.2" rx="2.75" ry="2.4"/><ellipse cx="122.6" cy="255.6" rx="2.75" ry="2.4"/><ellipse cx="117.4" cy="247.5" rx="2.75" ry="2.4"/><ellipse cx="128.6" cy="247.0" rx="2.75" ry="2.4"/><ellipse cx="111.0" cy="259.6" rx="2.75" ry="2.4"/><ellipse cx="133.4" cy="257.2" rx="2.75" ry="2.4"/><ellipse cx="121.0" cy="243.7" rx="2.75" ry="2.4"/><ellipse cx="110.9" cy="251.5" rx="2.75" ry="2.4"/><ellipse cx="118.6" cy="255.6" rx="2.75" ry="2.4"/><ellipse cx="106.1" cy="252.5" rx="2.75" ry="2.4"/><ellipse cx="116.3" cy="259.7" rx="2.75" ry="2.4"/><ellipse cx="119.3" cy="258.8" rx="2.75" ry="2.4"/><ellipse cx="113.4" cy="258.6" rx="2.75" ry="2.4"/><ellipse cx="113.4" cy="247.3" rx="2.75" ry="2.4"/><ellipse cx="132.2" cy="251.3" rx="2.75" ry="2.4"/><ellipse cx="138.4" cy="254.4" rx="2.75" ry="2.4"/><ellipse cx="134.4" cy="250.5" rx="2.75" ry="2.4"/><ellipse cx="125.8" cy="260.1" rx="2.75" ry="2.4"/><ellipse cx="131.7" cy="244.8" rx="2.75" ry="2.4"/><ellipse cx="109.5" cy="243.3" rx="2.75" ry="2.4"/><ellipse cx="118.3" cy="244.8" rx="2.75" ry="2.4"/><ellipse cx="134.7" cy="255.7" rx="2.75" ry="2.4"/><ellipse cx="120.8" cy="260.5" rx="2.75" ry="2.4"/><ellipse cx="114.5" cy="243.7" rx="2.75" ry="2.4"/><ellipse cx="124.5" cy="255.1" rx="2.75" ry="2.4"/><ellipse cx="108.6" cy="256.6" rx="2.75" ry="2.4"/><ellipse cx="115.3" cy="257.8" rx="2.75" ry="2.4"/><ellipse cx="117.6" cy="249.5" rx="2.75" ry="2.4"/><ellipse cx="120.9" cy="251.1" rx="2.75" ry="2.4"/><ellipse cx="127.1" cy="255.9" rx="2.75" ry="2.4"/><ellipse cx="118.1" cy="253.7" rx="2.75" ry="2.4"/><ellipse cx="114.1" cy="253.5" rx="2.75" ry="2.4"/><ellipse cx="104.9" cy="247.0" rx="2.75" ry="2.4"/><ellipse cx="134.2" cy="263.3" rx="2.75" ry="2.4"/><ellipse cx="128.1" cy="261.9" rx="2.75" ry="2.4"/><ellipse cx="125.0" cy="250.6" rx="2.75" ry="2.4"/><ellipse cx="92.0" cy="227.5" rx="2.75" ry="2.4"/><ellipse cx="76.9" cy="242.9" rx="2.75" ry="2.4"/><ellipse cx="81.2" cy="254.7" rx="2.75" ry="2.4"/><ellipse cx="101.0" cy="258.8" rx="2.75" ry="2.4"/><ellipse cx="100.8" cy="260.6" rx="2.75" ry="2.4"/><ellipse cx="151.1" cy="235.8" rx="2.75" ry="2.4"/><ellipse cx="167.7" cy="236.5" rx="2.75" ry="2.4"/><ellipse cx="148.8" cy="262.7" rx="2.75" ry="2.4"/><ellipse cx="109.9" cy="270.5" rx="2.75" ry="2.4"/><ellipse cx="133.2" cy="239.9" rx="2.75" ry="2.4"/></g>
<text transform="translate(74.10,367.40) scale(1.125,1)" text-anchor="middle" font-size="14">0</text>
<text transform="translate(126.60,367.40) scale(1.125,1)" text-anchor="middle" font-size="14">5000</text>
<text transform="translate(67.00,353.20) scale(1.125,1)" text-anchor="end" font-size="14">-2000</text>
<text transform="translate(67.00,311.77) scale(1.125,1)" text-anchor="end" font-size="14">0</text>
<text transform="translate(67.00,270.33) scale(1.125,1)" text-anchor="end" font-size="14">2000</text>
<text transform="translate(67.00,228.90) scale(1.125,1)" text-anchor="end" font-size="14">4000</text>
<text transform="translate(121.35,389.00) scale(1.16,1)" text-anchor="middle" font-size="14.8">x(m)</text>
<text transform="translate(121.35,408.10) scale(1.15,1)" text-anchor="middle" font-size="14.8">(d)</text>
<text transform="translate(17.90,284.90) rotate(-90) scale(1,1.2)" text-anchor="middle" font-size="15">y(m)</text>
<rect x="262.10" y="222.75" width="94.50" height="124.30" fill="none" stroke="#262626" stroke-width="1"/>
<path d="M262.10 347.05v-1.4M262.10 222.75v1.4M314.60 347.05v-1.4M314.60 222.75v1.4M262.10 347.05h1.4M356.60 347.05h-1.4M262.10 305.62h1.4M356.60 305.62h-1.4M262.10 264.18h1.4M356.60 264.18h-1.4M262.10 222.75h1.4M356.60 222.75h-1.4" stroke="#262626" stroke-width="0.9" fill="none"/>
<g fill="#00ff00"><ellipse cx="270.3" cy="331.8" rx="2.75" ry="2.4"/><ellipse cx="273.0" cy="333.0" rx="2.75" ry="2.4"/><ellipse cx="275.8" cy="331.5" rx="2.75" ry="2.4"/><ellipse cx="269.3" cy="328.8" rx="2.75" ry="2.4"/><ellipse cx="277.6" cy="327.3" rx="2.75" ry="2.4"/><ellipse cx="268.8" cy="325.3" rx="2.75" ry="2.4"/><ellipse cx="287.8" cy="281.8" rx="2.75" ry="2.4"/><ellipse cx="283.4" cy="284.2" rx="2.75" ry="2.4"/><ellipse cx="281.0" cy="288.2" rx="2.75" ry="2.4"/><ellipse cx="290.6" cy="291.9" rx="2.75" ry="2.4"/><ellipse cx="277.1" cy="294.5" rx="2.75" ry="2.4"/><ellipse cx="275.1" cy="299.0" rx="2.75" ry="2.4"/><ellipse cx="289.0" cy="299.3" rx="2.75" ry="2.4"/><ellipse cx="274.7" cy="303.9" rx="2.75" ry="2.4"/><ellipse cx="272.3" cy="309.7" rx="2.75" ry="2.4"/><ellipse cx="268.5" cy="324.0" rx="2.75" ry="2.4"/><ellipse cx="269.3" cy="317.7" rx="2.75" ry="2.4"/><ellipse cx="285.6" cy="299.2" rx="2.75" ry="2.4"/><ellipse cx="287.5" cy="287.4" rx="2.75" ry="2.4"/><ellipse cx="282.7" cy="286.9" rx="2.75" ry="2.4"/><ellipse cx="278.8" cy="311.5" rx="2.75" ry="2.4"/><ellipse cx="270.9" cy="325.0" rx="2.75" ry="2.4"/><ellipse cx="281.9" cy="301.0" rx="2.75" ry="2.4"/><ellipse cx="272.6" cy="326.8" rx="2.75" ry="2.4"/><ellipse cx="283.0" cy="304.3" rx="2.75" ry="2.4"/><ellipse cx="274.6" cy="322.4" rx="2.75" ry="2.4"/><ellipse cx="286.7" cy="290.5" rx="2.75" ry="2.4"/><ellipse cx="280.5" cy="293.8" rx="2.75" ry="2.4"/><ellipse cx="286.1" cy="301.3" rx="2.75" ry="2.4"/><ellipse cx="273.5" cy="318.3" rx="2.75" ry="2.4"/><ellipse cx="274.9" cy="325.8" rx="2.75" ry="2.4"/><ellipse cx="271.6" cy="319.2" rx="2.75" ry="2.4"/><ellipse cx="285.9" cy="294.2" rx="2.75" ry="2.4"/><ellipse cx="280.0" cy="309.5" rx="2.75" ry="2.4"/><ellipse cx="277.1" cy="323.7" rx="2.75" ry="2.4"/><ellipse cx="275.5" cy="306.2" rx="2.75" ry="2.4"/><ellipse cx="279.2" cy="301.2" rx="2.75" ry="2.4"/><ellipse cx="286.4" cy="283.3" rx="2.75" ry="2.4"/><ellipse cx="275.1" cy="319.5" rx="2.75" ry="2.4"/><ellipse cx="283.8" cy="290.9" rx="2.75" ry="2.4"/><ellipse cx="274.5" cy="314.9" rx="2.75" ry="2.4"/><ellipse cx="285.3" cy="285.9" rx="2.75" ry="2.4"/><ellipse cx="283.9" cy="295.8" rx="2.75" ry="2.4"/><ellipse cx="281.0" cy="306.2" rx="2.75" ry="2.4"/><ellipse cx="283.6" cy="298.8" rx="2.75" ry="2.4"/><ellipse cx="272.8" cy="330.3" rx="2.75" ry="2.4"/><ellipse cx="275.3" cy="309.5" rx="2.75" ry="2.4"/><ellipse cx="274.6" cy="312.0" rx="2.75" ry="2.4"/><ellipse cx="280.6" cy="297.8" rx="2.75" ry="2.4"/><ellipse cx="274.8" cy="328.8" rx="2.75" ry="2.4"/><ellipse cx="280.1" cy="303.6" rx="2.75" ry="2.4"/><ellipse cx="278.1" cy="314.7" rx="2.75" ry="2.4"/><ellipse cx="276.8" cy="316.5" rx="2.75" ry="2.4"/><ellipse cx="270.8" cy="316.3" rx="2.75" ry="2.4"/><ellipse cx="278.9" cy="307.3" rx="2.75" ry="2.4"/><ellipse cx="284.0" cy="288.5" rx="2.75" ry="2.4"/><ellipse cx="279.7" cy="313.2" rx="2.75" ry="2.4"/><ellipse cx="278.2" cy="304.3" rx="2.75" ry="2.4"/><ellipse cx="282.1" cy="296.6" rx="2.75" ry="2.4"/><ellipse cx="271.0" cy="321.5" rx="2.75" ry="2.4"/><ellipse cx="276.5" cy="313.5" rx="2.75" ry="2.4"/><ellipse cx="282.6" cy="294.1" rx="2.75" ry="2.4"/><ellipse cx="287.4" cy="297.8" rx="2.75" ry="2.4"/><ellipse cx="276.5" cy="307.8" rx="2.75" ry="2.4"/><ellipse cx="277.9" cy="309.5" rx="2.75" ry="2.4"/><ellipse cx="281.2" cy="291.4" rx="2.75" ry="2.4"/><ellipse cx="277.0" cy="301.7" rx="2.75" ry="2.4"/><ellipse cx="277.1" cy="318.9" rx="2.75" ry="2.4"/><ellipse cx="284.1" cy="302.0" rx="2.75" ry="2.4"/><ellipse cx="272.5" cy="323.3" rx="2.75" ry="2.4"/><ellipse cx="276.7" cy="321.3" rx="2.75" ry="2.4"/><ellipse cx="276.6" cy="311.1" rx="2.75" ry="2.4"/><ellipse cx="286.3" cy="296.1" rx="2.75" ry="2.4"/><ellipse cx="270.5" cy="327.1" rx="2.75" ry="2.4"/><ellipse cx="272.6" cy="315.6" rx="2.75" ry="2.4"/><ellipse cx="273.0" cy="313.5" rx="2.75" ry="2.4"/><ellipse cx="273.2" cy="320.5" rx="2.75" ry="2.4"/><ellipse cx="284.5" cy="292.8" rx="2.75" ry="2.4"/><ellipse cx="274.9" cy="279.8" rx="2.75" ry="2.4"/><ellipse cx="270.5" cy="282.5" rx="2.75" ry="2.4"/><ellipse cx="287.2" cy="278.6" rx="2.75" ry="2.4"/><ellipse cx="292.4" cy="281.6" rx="2.75" ry="2.4"/><ellipse cx="292.9" cy="284.2" rx="2.75" ry="2.4"/><ellipse cx="290.7" cy="291.8" rx="2.75" ry="2.4"/><ellipse cx="277.1" cy="294.0" rx="2.75" ry="2.4"/><ellipse cx="275.5" cy="298.9" rx="2.75" ry="2.4"/><ellipse cx="289.6" cy="299.2" rx="2.75" ry="2.4"/><ellipse cx="292.0" cy="308.1" rx="2.75" ry="2.4"/><ellipse cx="306.0" cy="307.3" rx="2.75" ry="2.4"/><ellipse cx="305.5" cy="320.0" rx="2.75" ry="2.4"/><ellipse cx="306.5" cy="321.1" rx="2.75" ry="2.4"/><ellipse cx="284.2" cy="314.0" rx="2.75" ry="2.4"/><ellipse cx="283.6" cy="315.7" rx="2.75" ry="2.4"/><ellipse cx="284.0" cy="322.8" rx="2.75" ry="2.4"/><ellipse cx="284.2" cy="327.9" rx="2.75" ry="2.4"/><ellipse cx="280.4" cy="328.7" rx="2.75" ry="2.4"/></g>
<g fill="#ff0000"><ellipse cx="329.2" cy="306.9" rx="2.75" ry="2.4"/><ellipse cx="329.3" cy="308.9" rx="2.75" ry="2.4"/><ellipse cx="328.9" cy="310.6" rx="2.75" ry="2.4"/><ellipse cx="326.5" cy="310.7" rx="2.75" ry="2.4"/><ellipse cx="324.5" cy="309.9" rx="2.75" ry="2.4"/><ellipse cx="323.2" cy="307.9" rx="2.75" ry="2.4"/><ellipse cx="334.1" cy="306.4" rx="2.75" ry="2.4"/><ellipse cx="334.1" cy="308.9" rx="2.75" ry="2.4"/><ellipse cx="334.4" cy="310.9" rx="2.75" ry="2.4"/><ellipse cx="334.9" cy="313.4" rx="2.75" ry="2.4"/><ellipse cx="328.9" cy="282.8" rx="2.75" ry="2.4"/><ellipse cx="325.9" cy="286.2" rx="2.75" ry="2.4"/><ellipse cx="335.8" cy="284.9" rx="2.75" ry="2.4"/><ellipse cx="339.0" cy="286.4" rx="2.75" ry="2.4"/><ellipse cx="321.2" cy="300.9" rx="2.75" ry="2.4"/><ellipse cx="321.6" cy="298.1" rx="2.75" ry="2.4"/><ellipse cx="344.5" cy="310.5" rx="2.75" ry="2.4"/><ellipse cx="343.0" cy="311.7" rx="2.75" ry="2.4"/><ellipse cx="339.4" cy="321.2" rx="2.75" ry="2.4"/><ellipse cx="329.7" cy="292.8" rx="2.75" ry="2.4"/><ellipse cx="336.4" cy="288.4" rx="2.75" ry="2.4"/><ellipse cx="328.0" cy="296.5" rx="2.75" ry="2.4"/><ellipse cx="339.0" cy="316.4" rx="2.75" ry="2.4"/><ellipse cx="333.8" cy="290.6" rx="2.75" ry="2.4"/><ellipse cx="338.8" cy="308.3" rx="2.75" ry="2.4"/><ellipse cx="324.4" cy="302.7" rx="2.75" ry="2.4"/><ellipse cx="338.3" cy="304.5" rx="2.75" ry="2.4"/><ellipse cx="335.9" cy="298.8" rx="2.75" ry="2.4"/><ellipse cx="337.0" cy="290.3" rx="2.75" ry="2.4"/><ellipse cx="337.6" cy="296.4" rx="2.75" ry="2.4"/><ellipse cx="338.4" cy="319.2" rx="2.75" ry="2.4"/><ellipse cx="325.7" cy="300.3" rx="2.75" ry="2.4"/><ellipse cx="329.1" cy="286.1" rx="2.75" ry="2.4"/><ellipse cx="336.8" cy="308.4" rx="2.75" ry="2.4"/><ellipse cx="325.8" cy="305.6" rx="2.75" ry="2.4"/><ellipse cx="323.5" cy="304.7" rx="2.75" ry="2.4"/><ellipse cx="340.3" cy="309.6" rx="2.75" ry="2.4"/><ellipse cx="331.3" cy="290.4" rx="2.75" ry="2.4"/><ellipse cx="331.0" cy="304.9" rx="2.75" ry="2.4"/><ellipse cx="325.9" cy="290.5" rx="2.75" ry="2.4"/><ellipse cx="331.7" cy="295.4" rx="2.75" ry="2.4"/><ellipse cx="325.0" cy="297.8" rx="2.75" ry="2.4"/><ellipse cx="326.6" cy="307.9" rx="2.75" ry="2.4"/><ellipse cx="336.2" cy="317.3" rx="2.75" ry="2.4"/><ellipse cx="324.5" cy="292.4" rx="2.75" ry="2.4"/><ellipse cx="337.4" cy="314.4" rx="2.75" ry="2.4"/><ellipse cx="324.0" cy="294.8" rx="2.75" ry="2.4"/><ellipse cx="330.7" cy="302.8" rx="2.75" ry="2.4"/><ellipse cx="337.5" cy="311.6" rx="2.75" ry="2.4"/><ellipse cx="336.6" cy="294.7" rx="2.75" ry="2.4"/><ellipse cx="328.5" cy="299.8" rx="2.75" ry="2.4"/><ellipse cx="329.6" cy="288.8" rx="2.75" ry="2.4"/><ellipse cx="338.7" cy="299.5" rx="2.75" ry="2.4"/><ellipse cx="328.4" cy="303.6" rx="2.75" ry="2.4"/><ellipse cx="326.8" cy="294.3" rx="2.75" ry="2.4"/><ellipse cx="332.3" cy="292.1" rx="2.75" ry="2.4"/><ellipse cx="336.3" cy="301.2" rx="2.75" ry="2.4"/><ellipse cx="334.3" cy="300.9" rx="2.75" ry="2.4"/><ellipse cx="333.4" cy="303.2" rx="2.75" ry="2.4"/><ellipse cx="323.1" cy="299.7" rx="2.75" ry="2.4"/><ellipse cx="335.8" cy="303.9" rx="2.75" ry="2.4"/><ellipse cx="333.5" cy="296.8" rx="2.75" ry="2.4"/><ellipse cx="341.3" cy="307.8" rx="2.75" ry="2.4"/><ellipse cx="339.7" cy="312.1" rx="2.75" ry="2.4"/><ellipse cx="339.0" cy="301.6" rx="2.75" ry="2.4"/><ellipse cx="334.6" cy="294.3" rx="2.75" ry="2.4"/><ellipse cx="329.1" cy="290.7" rx="2.75" ry="2.4"/><ellipse cx="337.8" cy="292.9" rx="2.75" ry="2.4"/><ellipse cx="342.4" cy="309.8" rx="2.75" ry="2.4"/><ellipse cx="333.6" cy="288.5" rx="2.75" ry="2.4"/><ellipse cx="321.8" cy="303.4" rx="2.75" ry="2.4"/><ellipse cx="327.5" cy="292.4" rx="2.75" ry="2.4"/><ellipse cx="327.4" cy="289.0" rx="2.75" ry="2.4"/><ellipse cx="340.7" cy="304.8" rx="2.75" ry="2.4"/><ellipse cx="327.6" cy="301.8" rx="2.75" ry="2.4"/><ellipse cx="336.0" cy="305.8" rx="2.75" ry="2.4"/><ellipse cx="329.2" cy="295.0" rx="2.75" ry="2.4"/><ellipse cx="335.3" cy="292.3" rx="2.75" ry="2.4"/><ellipse cx="327.1" cy="298.4" rx="2.75" ry="2.4"/><ellipse cx="340.4" cy="318.0" rx="2.75" ry="2.4"/><ellipse cx="323.0" cy="296.6" rx="2.75" ry="2.4"/><ellipse cx="336.6" cy="320.1" rx="2.75" ry="2.4"/><ellipse cx="339.3" cy="306.2" rx="2.75" ry="2.4"/><ellipse cx="326.3" cy="303.6" rx="2.75" ry="2.4"/><ellipse cx="333.6" cy="298.9" rx="2.75" ry="2.4"/><ellipse cx="350.5" cy="279.8" rx="2.75" ry="2.4"/><ellipse cx="352.0" cy="285.9" rx="2.75" ry="2.4"/><ellipse cx="347.3" cy="305.1" rx="2.75" ry="2.4"/><ellipse cx="342.9" cy="292.1" rx="2.75" ry="2.4"/><ellipse cx="342.9" cy="295.4" rx="2.75" ry="2.4"/><ellipse cx="343.0" cy="298.2" rx="2.75" ry="2.4"/><ellipse cx="343.4" cy="300.7" rx="2.75" ry="2.4"/><ellipse cx="341.6" cy="302.9" rx="2.75" ry="2.4"/><ellipse cx="330.4" cy="324.1" rx="2.75" ry="2.4"/><ellipse cx="336.1" cy="326.8" rx="2.75" ry="2.4"/><ellipse cx="338.5" cy="329.0" rx="2.75" ry="2.4"/><ellipse cx="350.8" cy="328.7" rx="2.75" ry="2.4"/><ellipse cx="354.9" cy="324.6" rx="2.75" ry="2.4"/><ellipse cx="338.0" cy="344.5" rx="2.75" ry="2.4"/><ellipse cx="344.0" cy="311.3" rx="2.75" ry="2.4"/><ellipse cx="346.7" cy="306.4" rx="2.75" ry="2.4"/></g>
<g fill="#000000"><ellipse cx="294.3" cy="258.9" rx="2.75" ry="2.4"/><ellipse cx="297.3" cy="260.9" rx="2.75" ry="2.4"/><ellipse cx="300.5" cy="262.2" rx="2.75" ry="2.4"/><ellipse cx="303.8" cy="263.0" rx="2.75" ry="2.4"/><ellipse cx="291.4" cy="243.1" rx="2.75" ry="2.4"/><ellipse cx="295.4" cy="243.0" rx="2.75" ry="2.4"/><ellipse cx="300.4" cy="243.1" rx="2.75" ry="2.4"/><ellipse cx="305.1" cy="243.0" rx="2.75" ry="2.4"/><ellipse cx="311.8" cy="242.6" rx="2.75" ry="2.4"/><ellipse cx="317.2" cy="244.2" rx="2.75" ry="2.4"/><ellipse cx="321.5" cy="243.4" rx="2.75" ry="2.4"/><ellipse cx="324.5" cy="243.8" rx="2.75" ry="2.4"/><ellipse cx="328.2" cy="245.3" rx="2.75" ry="2.4"/><ellipse cx="323.8" cy="247.6" rx="2.75" ry="2.4"/><ellipse cx="328.2" cy="255.5" rx="2.75" ry="2.4"/><ellipse cx="327.2" cy="260.1" rx="2.75" ry="2.4"/><ellipse cx="314.9" cy="264.8" rx="2.75" ry="2.4"/><ellipse cx="320.3" cy="264.1" rx="2.75" ry="2.4"/><ellipse cx="324.2" cy="262.9" rx="2.75" ry="2.4"/><ellipse cx="326.0" cy="261.8" rx="2.75" ry="2.4"/><ellipse cx="291.1" cy="246.2" rx="2.75" ry="2.4"/><ellipse cx="292.9" cy="254.2" rx="2.75" ry="2.4"/><ellipse cx="292.9" cy="256.6" rx="2.75" ry="2.4"/><ellipse cx="302.9" cy="245.9" rx="2.75" ry="2.4"/><ellipse cx="311.0" cy="250.7" rx="2.75" ry="2.4"/><ellipse cx="293.3" cy="244.6" rx="2.75" ry="2.4"/><ellipse cx="306.8" cy="261.1" rx="2.75" ry="2.4"/><ellipse cx="295.3" cy="247.5" rx="2.75" ry="2.4"/><ellipse cx="296.1" cy="245.2" rx="2.75" ry="2.4"/><ellipse cx="302.4" cy="260.9" rx="2.75" ry="2.4"/><ellipse cx="314.9" cy="250.9" rx="2.75" ry="2.4"/><ellipse cx="316.5" cy="252.1" rx="2.75" ry="2.4"/><ellipse cx="302.6" cy="255.7" rx="2.75" ry="2.4"/><ellipse cx="307.9" cy="249.3" rx="2.75" ry="2.4"/><ellipse cx="310.6" cy="262.2" rx="2.75" ry="2.4"/><ellipse cx="318.4" cy="249.0" rx="2.75" ry="2.4"/><ellipse cx="296.4" cy="253.5" rx="2.75" ry="2.4"/><ellipse cx="319.7" cy="255.4" rx="2.75" ry="2.4"/><ellipse cx="317.1" cy="255.9" rx="2.75" ry="2.4"/><ellipse cx="312.7" cy="252.8" rx="2.75" ry="2.4"/><ellipse cx="308.7" cy="257.5" rx="2.75" ry="2.4"/><ellipse cx="305.3" cy="257.6" rx="2.75" ry="2.4"/><ellipse cx="297.3" cy="247.7" rx="2.75" ry="2.4"/><ellipse cx="299.5" cy="253.4" rx="2.75" ry="2.4"/><ellipse cx="313.0" cy="248.4" rx="2.75" ry="2.4"/><ellipse cx="304.7" cy="255.3" rx="2.75" ry="2.4"/><ellipse cx="326.9" cy="258.0" rx="2.75" ry="2.4"/><ellipse cx="305.5" cy="251.5" rx="2.75" ry="2.4"/><ellipse cx="298.6" cy="246.2" rx="2.75" ry="2.4"/><ellipse cx="314.0" cy="245.9" rx="2.75" ry="2.4"/><ellipse cx="308.4" cy="253.4" rx="2.75" ry="2.4"/><ellipse cx="303.7" cy="248.5" rx="2.75" ry="2.4"/><ellipse cx="310.7" cy="245.8" rx="2.75" ry="2.4"/><ellipse cx="310.9" cy="260.0" rx="2.75" ry="2.4"/><ellipse cx="314.4" cy="262.8" rx="2.75" ry="2.4"/><ellipse cx="322.6" cy="253.3" rx="2.75" ry="2.4"/><ellipse cx="319.2" cy="253.3" rx="2.75" ry="2.4"/><ellipse cx="300.2" cy="249.1" rx="2.75" ry="2.4"/><ellipse cx="304.1" cy="252.8" rx="2.75" ry="2.4"/><ellipse cx="306.6" cy="263.2" rx="2.75" ry="2.4"/><ellipse cx="307.4" cy="246.6" rx="2.75" ry="2.4"/><ellipse cx="294.6" cy="255.1" rx="2.75" ry="2.4"/><ellipse cx="308.8" cy="263.7" rx="2.75" ry="2.4"/><ellipse cx="311.9" cy="263.7" rx="2.75" ry="2.4"/><ellipse cx="322.6" cy="245.6" rx="2.75" ry="2.4"/><ellipse cx="296.5" cy="258.6" rx="2.75" ry="2.4"/><ellipse cx="298.1" cy="249.7" rx="2.75" ry="2.4"/><ellipse cx="314.4" cy="254.0" rx="2.75" ry="2.4"/><ellipse cx="300.9" cy="245.4" rx="2.75" ry="2.4"/><ellipse cx="312.3" cy="258.3" rx="2.75" ry="2.4"/><ellipse cx="310.7" cy="247.9" rx="2.75" ry="2.4"/><ellipse cx="326.2" cy="244.9" rx="2.75" ry="2.4"/><ellipse cx="319.2" cy="257.3" rx="2.75" ry="2.4"/><ellipse cx="324.6" cy="256.6" rx="2.75" ry="2.4"/><ellipse cx="295.7" cy="250.6" rx="2.75" ry="2.4"/><ellipse cx="314.5" cy="257.8" rx="2.75" ry="2.4"/><ellipse cx="316.3" cy="249.1" rx="2.75" ry="2.4"/><ellipse cx="310.3" cy="253.0" rx="2.75" ry="2.4"/><ellipse cx="324.7" cy="253.2" rx="2.75" ry="2.4"/><ellipse cx="310.6" cy="255.6" rx="2.75" ry="2.4"/><ellipse cx="305.4" cy="247.5" rx="2.75" ry="2.4"/><ellipse cx="316.6" cy="247.0" rx="2.75" ry="2.4"/><ellipse cx="299.0" cy="259.6" rx="2.75" ry="2.4"/><ellipse cx="321.4" cy="257.2" rx="2.75" ry="2.4"/><ellipse cx="309.0" cy="243.7" rx="2.75" ry="2.4"/><ellipse cx="298.9" cy="251.5" rx="2.75" ry="2.4"/><ellipse cx="306.6" cy="255.6" rx="2.75" ry="2.4"/><ellipse cx="294.1" cy="252.5" rx="2.75" ry="2.4"/><ellipse cx="304.3" cy="259.7" rx="2.75" ry="2.4"/><ellipse cx="307.3" cy="258.8" rx="2.75" ry="2.4"/><ellipse cx="301.4" cy="258.6" rx="2.75" ry="2.4"/><ellipse cx="301.4" cy="247.3" rx="2.75" ry="2.4"/><ellipse cx="320.2" cy="251.3" rx="2.75" ry="2.4"/><ellipse cx="326.4" cy="254.4" rx="2.75" ry="2.4"/><ellipse cx="322.4" cy="250.5" rx="2.75" ry="2.4"/><ellipse cx="313.8" cy="260.1" rx="2.75" ry="2.4"/><ellipse cx="319.7" cy="244.8" rx="2.75" ry="2.4"/><ellipse cx="297.5" cy="243.3" rx="2.75" ry="2.4"/><ellipse cx="306.3" cy="244.8" rx="2.75" ry="2.4"/><ellipse cx="322.7" cy="255.7" rx="2.75" ry="2.4"/><ellipse cx="308.8" cy="260.5" rx="2.75" ry="2.4"/><ellipse cx="302.5" cy="243.7" rx="2.75" ry="2.4"/><ellipse cx="312.5" cy="255.1" rx="2.75" ry="2.4"/><ellipse cx="296.6" cy="256.6" rx="2.75" ry="2.4"/><ellipse cx="303.3" cy="257.8" rx="2.75" ry="2.4"/><ellipse cx="305.6" cy="249.5" rx="2.75" ry="2.4"/><ellipse cx="308.9" cy="251.1" rx="2.75" ry="2.4"/><ellipse cx="315.1" cy="255.9" rx="2.75" ry="2.4"/><ellipse cx="306.1" cy="253.7" rx="2.75" ry="2.4"/><ellipse cx="302.1" cy="253.5" rx="2.75" ry="2.4"/><ellipse cx="292.9" cy="247.0" rx="2.75" ry="2.4"/><ellipse cx="322.2" cy="263.3" rx="2.75" ry="2.4"/><ellipse cx="316.1" cy="261.9" rx="2.75" ry="2.4"/><ellipse cx="313.0" cy="250.6" rx="2.75" ry="2.4"/><ellipse cx="280.0" cy="227.5" rx="2.75" ry="2.4"/><ellipse cx="264.9" cy="242.9" rx="2.75" ry="2.4"/><ellipse cx="269.2" cy="254.7" rx="2.75" ry="2.4"/><ellipse cx="289.0" cy="258.8" rx="2.75" ry="2.4"/><ellipse cx="288.8" cy="260.6" rx="2.75" ry="2.4"/><ellipse cx="339.1" cy="235.8" rx="2.75" ry="2.4"/><ellipse cx="355.7" cy="236.5" rx="2.75" ry="2.4"/><ellipse cx="336.8" cy="262.7" rx="2.75" ry="2.4"/><ellipse cx="297.9" cy="270.5" rx="2.75" ry="2.4"/><ellipse cx="321.2" cy="239.9" rx="2.75" ry="2.4"/></g>
<text transform="translate(262.10,367.40) scale(1.125,1)" text-anchor="middle" font-size="14">0</text>
<text transform="translate(314.60,367.40) scale(1.125,1)" text-anchor="middle" font-size="14">5000</text>
<text transform="translate(255.00,353.20) scale(1.125,1)" text-anchor="end" font-size="14">-2000</text>
<text transform="translate(255.00,311.77) scale(1.125,1)" text-anchor="end" font-size="14">0</text>
<text transform="translate(255.00,270.33) scale(1.125,1)" text-anchor="end" font-size="14">2000</text>
<text transform="translate(255.00,228.90) scale(1.125,1)" text-anchor="end" font-size="14">4000</text>
<text transform="translate(309.35,389.00) scale(1.16,1)" text-anchor="middle" font-size="14.8">x(m)</text>
<text transform="translate(309.35,408.10) scale(1.15,1)" text-anchor="middle" font-size="14.8">(e)</text>
<text transform="translate(205.90,284.90) rotate(-90) scale(1,1.2)" text-anchor="middle" font-size="15">y(m)</text>
<rect x="450.10" y="222.75" width="94.50" height="124.30" fill="none" stroke="#262626" stroke-width="1"/>
<path d="M450.10 347.05v-1.4M450.10 222.75v1.4M502.60 347.05v-1.4M502.60 222.75v1.4M450.10 347.05h1.4M544.60 347.05h-1.4M450.10 305.62h1.4M544.60 305.62h-1.4M450.10 264.18h1.4M544.60 264.18h-1.4M450.10 222.75h1.4M544.60 222.75h-1.4" stroke="#262626" stroke-width="0.9" fill="none"/>
<g fill="#00ff00"><ellipse cx="458.3" cy="331.8" rx="2.75" ry="2.4"/><ellipse cx="461.0" cy="333.0" rx="2.75" ry="2.4"/><ellipse cx="463.8" cy="331.5" rx="2.75" ry="2.4"/><ellipse cx="457.3" cy="328.8" rx="2.75" ry="2.4"/><ellipse cx="465.6" cy="327.3" rx="2.75" ry="2.4"/><ellipse cx="456.8" cy="325.3" rx="2.75" ry="2.4"/><ellipse cx="475.8" cy="281.8" rx="2.75" ry="2.4"/><ellipse cx="471.4" cy="284.2" rx="2.75" ry="2.4"/><ellipse cx="469.0" cy="288.2" rx="2.75" ry="2.4"/><ellipse cx="478.6" cy="291.9" rx="2.75" ry="2.4"/><ellipse cx="465.1" cy="294.5" rx="2.75" ry="2.4"/><ellipse cx="463.1" cy="299.0" rx="2.75" ry="2.4"/><ellipse cx="477.0" cy="299.3" rx="2.75" ry="2.4"/><ellipse cx="462.7" cy="303.9" rx="2.75" ry="2.4"/><ellipse cx="460.3" cy="309.7" rx="2.75" ry="2.4"/><ellipse cx="456.5" cy="324.0" rx="2.75" ry="2.4"/><ellipse cx="457.3" cy="317.7" rx="2.75" ry="2.4"/><ellipse cx="473.6" cy="299.2" rx="2.75" ry="2.4"/><ellipse cx="475.5" cy="287.4" rx="2.75" ry="2.4"/><ellipse cx="470.7" cy="286.9" rx="2.75" ry="2.4"/><ellipse cx="466.8" cy="311.5" rx="2.75" ry="2.4"/><ellipse cx="458.9" cy="325.0" rx="2.75" ry="2.4"/><ellipse cx="469.9" cy="301.0" rx="2.75" ry="2.4"/><ellipse cx="460.6" cy="326.8" rx="2.75" ry="2.4"/><ellipse cx="471.0" cy="304.3" rx="2.75" ry="2.4"/><ellipse cx="462.6" cy="322.4" rx="2.75" ry="2.4"/><ellipse cx="474.7" cy="290.5" rx="2.75" ry="2.4"/><ellipse cx="468.5" cy="293.8" rx="2.75" ry="2.4"/><ellipse cx="474.1" cy="301.3" rx="2.75" ry="2.4"/><ellipse cx="461.5" cy="318.3" rx="2.75" ry="2.4"/><ellipse cx="462.9" cy="325.8" rx="2.75" ry="2.4"/><ellipse cx="459.6" cy="319.2" rx="2.75" ry="2.4"/><ellipse cx="473.9" cy="294.2" rx="2.75" ry="2.4"/><ellipse cx="468.0" cy="309.5" rx="2.75" ry="2.4"/><ellipse cx="465.1" cy="323.7" rx="2.75" ry="2.4"/><ellipse cx="463.5" cy="306.2" rx="2.75" ry="2.4"/><ellipse cx="467.2" cy="301.2" rx="2.75" ry="2.4"/><ellipse cx="474.4" cy="283.3" rx="2.75" ry="2.4"/><ellipse cx="463.1" cy="319.5" rx="2.75" ry="2.4"/><ellipse cx="471.8" cy="290.9" rx="2.75" ry="2.4"/><ellipse cx="462.5" cy="314.9" rx="2.75" ry="2.4"/><ellipse cx="473.3" cy="285.9" rx="2.75" ry="2.4"/><ellipse cx="471.9" cy="295.8" rx="2.75" ry="2.4"/><ellipse cx="469.0" cy="306.2" rx="2.75" ry="2.4"/><ellipse cx="471.6" cy="298.8" rx="2.75" ry="2.4"/><ellipse cx="460.8" cy="330.3" rx="2.75" ry="2.4"/><ellipse cx="463.3" cy="309.5" rx="2.75" ry="2.4"/><ellipse cx="462.6" cy="312.0" rx="2.75" ry="2.4"/><ellipse cx="468.6" cy="297.8" rx="2.75" ry="2.4"/><ellipse cx="462.8" cy="328.8" rx="2.75" ry="2.4"/><ellipse cx="468.1" cy="303.6" rx="2.75" ry="2.4"/><ellipse cx="466.1" cy="314.7" rx="2.75" ry="2.4"/><ellipse cx="464.8" cy="316.5" rx="2.75" ry="2.4"/><ellipse cx="458.8" cy="316.3" rx="2.75" ry="2.4"/><ellipse cx="466.9" cy="307.3" rx="2.75" ry="2.4"/><ellipse cx="472.0" cy="288.5" rx="2.75" ry="2.4"/><ellipse cx="467.7" cy="313.2" rx="2.75" ry="2.4"/><ellipse cx="466.2" cy="304.3" rx="2.75" ry="2.4"/><ellipse cx="470.1" cy="296.6" rx="2.75" ry="2.4"/><ellipse cx="459.0" cy="321.5" rx="2.75" ry="2.4"/><ellipse cx="464.5" cy="313.5" rx="2.75" ry="2.4"/><ellipse cx="470.6" cy="294.1" rx="2.75" ry="2.4"/><ellipse cx="475.4" cy="297.8" rx="2.75" ry="2.4"/><ellipse cx="464.5" cy="307.8" rx="2.75" ry="2.4"/><ellipse cx="465.9" cy="309.5" rx="2.75" ry="2.4"/><ellipse cx="469.2" cy="291.4" rx="2.75" ry="2.4"/><ellipse cx="465.0" cy="301.7" rx="2.75" ry="2.4"/><ellipse cx="465.1" cy="318.9" rx="2.75" ry="2.4"/><ellipse cx="472.1" cy="302.0" rx="2.75" ry="2.4"/><ellipse cx="460.5" cy="323.3" rx="2.75" ry="2.4"/><ellipse cx="464.7" cy="321.3" rx="2.75" ry="2.4"/><ellipse cx="464.6" cy="311.1" rx="2.75" ry="2.4"/><ellipse cx="474.3" cy="296.1" rx="2.75" ry="2.4"/><ellipse cx="458.5" cy="327.1" rx="2.75" ry="2.4"/><ellipse cx="460.6" cy="315.6" rx="2.75" ry="2.4"/><ellipse cx="461.0" cy="313.5" rx="2.75" ry="2.4"/><ellipse cx="461.2" cy="320.5" rx="2.75" ry="2.4"/><ellipse cx="472.5" cy="292.8" rx="2.75" ry="2.4"/><ellipse cx="462.9" cy="279.8" rx="2.75" ry="2.4"/><ellipse cx="458.5" cy="282.5" rx="2.75" ry="2.4"/><ellipse cx="475.2" cy="278.6" rx="2.75" ry="2.4"/><ellipse cx="480.4" cy="281.6" rx="2.75" ry="2.4"/><ellipse cx="480.9" cy="284.2" rx="2.75" ry="2.4"/><ellipse cx="478.7" cy="291.8" rx="2.75" ry="2.4"/><ellipse cx="465.1" cy="294.0" rx="2.75" ry="2.4"/><ellipse cx="463.5" cy="298.9" rx="2.75" ry="2.4"/><ellipse cx="477.6" cy="299.2" rx="2.75" ry="2.4"/><ellipse cx="480.0" cy="308.1" rx="2.75" ry="2.4"/><ellipse cx="494.0" cy="307.3" rx="2.75" ry="2.4"/><ellipse cx="493.5" cy="320.0" rx="2.75" ry="2.4"/><ellipse cx="494.5" cy="321.1" rx="2.75" ry="2.4"/><ellipse cx="472.2" cy="314.0" rx="2.75" ry="2.4"/><ellipse cx="471.6" cy="315.7" rx="2.75" ry="2.4"/><ellipse cx="472.0" cy="322.8" rx="2.75" ry="2.4"/><ellipse cx="472.2" cy="327.9" rx="2.75" ry="2.4"/><ellipse cx="468.4" cy="328.7" rx="2.75" ry="2.4"/></g>
<g fill="#ff0000"><ellipse cx="517.2" cy="306.9" rx="2.75" ry="2.4"/><ellipse cx="517.3" cy="308.9" rx="2.75" ry="2.4"/><ellipse cx="516.9" cy="310.6" rx="2.75" ry="2.4"/><ellipse cx="514.5" cy="310.7" rx="2.75" ry="2.4"/><ellipse cx="512.5" cy="309.9" rx="2.75" ry="2.4"/><ellipse cx="511.2" cy="307.9" rx="2.75" ry="2.4"/><ellipse cx="522.1" cy="306.4" rx="2.75" ry="2.4"/><ellipse cx="522.1" cy="308.9" rx="2.75" ry="2.4"/><ellipse cx="522.4" cy="310.9" rx="2.75" ry="2.4"/><ellipse cx="522.9" cy="313.4" rx="2.75" ry="2.4"/><ellipse cx="516.9" cy="282.8" rx="2.75" ry="2.4"/><ellipse cx="513.9" cy="286.2" rx="2.75" ry="2.4"/><ellipse cx="523.8" cy="284.9" rx="2.75" ry="2.4"/><ellipse cx="527.0" cy="286.4" rx="2.75" ry="2.4"/><ellipse cx="509.2" cy="300.9" rx="2.75" ry="2.4"/><ellipse cx="509.6" cy="298.1" rx="2.75" ry="2.4"/><ellipse cx="532.5" cy="310.5" rx="2.75" ry="2.4"/><ellipse cx="531.0" cy="311.7" rx="2.75" ry="2.4"/><ellipse cx="527.4" cy="321.2" rx="2.75" ry="2.4"/><ellipse cx="517.7" cy="292.8" rx="2.75" ry="2.4"/><ellipse cx="524.4" cy="288.4" rx="2.75" ry="2.4"/><ellipse cx="516.0" cy="296.5" rx="2.75" ry="2.4"/><ellipse cx="527.0" cy="316.4" rx="2.75" ry="2.4"/><ellipse cx="521.8" cy="290.6" rx="2.75" ry="2.4"/><ellipse cx="526.8" cy="308.3" rx="2.75" ry="2.4"/><ellipse cx="512.4" cy="302.7" rx="2.75" ry="2.4"/><ellipse cx="526.3" cy="304.5" rx="2.75" ry="2.4"/><ellipse cx="523.9" cy="298.8" rx="2.75" ry="2.4"/><ellipse cx="525.0" cy="290.3" rx="2.75" ry="2.4"/><ellipse cx="525.6" cy="296.4" rx="2.75" ry="2.4"/><ellipse cx="526.4" cy="319.2" rx="2.75" ry="2.4"/><ellipse cx="513.7" cy="300.3" rx="2.75" ry="2.4"/><ellipse cx="517.1" cy="286.1" rx="2.75" ry="2.4"/><ellipse cx="524.8" cy="308.4" rx="2.75" ry="2.4"/><ellipse cx="513.8" cy="305.6" rx="2.75" ry="2.4"/><ellipse cx="511.5" cy="304.7" rx="2.75" ry="2.4"/><ellipse cx="528.3" cy="309.6" rx="2.75" ry="2.4"/><ellipse cx="519.3" cy="290.4" rx="2.75" ry="2.4"/><ellipse cx="519.0" cy="304.9" rx="2.75" ry="2.4"/><ellipse cx="513.9" cy="290.5" rx="2.75" ry="2.4"/><ellipse cx="519.7" cy="295.4" rx="2.75" ry="2.4"/><ellipse cx="513.0" cy="297.8" rx="2.75" ry="2.4"/><ellipse cx="514.6" cy="307.9" rx="2.75" ry="2.4"/><ellipse cx="524.2" cy="317.3" rx="2.75" ry="2.4"/><ellipse cx="512.5" cy="292.4" rx="2.75" ry="2.4"/><ellipse cx="525.4" cy="314.4" rx="2.75" ry="2.4"/><ellipse cx="512.0" cy="294.8" rx="2.75" ry="2.4"/><ellipse cx="518.7" cy="302.8" rx="2.75" ry="2.4"/><ellipse cx="525.5" cy="311.6" rx="2.75" ry="2.4"/><ellipse cx="524.6" cy="294.7" rx="2.75" ry="2.4"/><ellipse cx="516.5" cy="299.8" rx="2.75" ry="2.4"/><ellipse cx="517.6" cy="288.8" rx="2.75" ry="2.4"/><ellipse cx="526.7" cy="299.5" rx="2.75" ry="2.4"/><ellipse cx="516.4" cy="303.6" rx="2.75" ry="2.4"/><ellipse cx="514.8" cy="294.3" rx="2.75" ry="2.4"/><ellipse cx="520.3" cy="292.1" rx="2.75" ry="2.4"/><ellipse cx="524.3" cy="301.2" rx="2.75" ry="2.4"/><ellipse cx="522.3" cy="300.9" rx="2.75" ry="2.4"/><ellipse cx="521.4" cy="303.2" rx="2.75" ry="2.4"/><ellipse cx="511.1" cy="299.7" rx="2.75" ry="2.4"/><ellipse cx="523.8" cy="303.9" rx="2.75" ry="2.4"/><ellipse cx="521.5" cy="296.8" rx="2.75" ry="2.4"/><ellipse cx="529.3" cy="307.8" rx="2.75" ry="2.4"/><ellipse cx="527.7" cy="312.1" rx="2.75" ry="2.4"/><ellipse cx="527.0" cy="301.6" rx="2.75" ry="2.4"/><ellipse cx="522.6" cy="294.3" rx="2.75" ry="2.4"/><ellipse cx="517.1" cy="290.7" rx="2.75" ry="2.4"/><ellipse cx="525.8" cy="292.9" rx="2.75" ry="2.4"/><ellipse cx="530.4" cy="309.8" rx="2.75" ry="2.4"/><ellipse cx="521.6" cy="288.5" rx="2.75" ry="2.4"/><ellipse cx="509.8" cy="303.4" rx="2.75" ry="2.4"/><ellipse cx="515.5" cy="292.4" rx="2.75" ry="2.4"/><ellipse cx="515.4" cy="289.0" rx="2.75" ry="2.4"/><ellipse cx="528.7" cy="304.8" rx="2.75" ry="2.4"/><ellipse cx="515.6" cy="301.8" rx="2.75" ry="2.4"/><ellipse cx="524.0" cy="305.8" rx="2.75" ry="2.4"/><ellipse cx="517.2" cy="295.0" rx="2.75" ry="2.4"/><ellipse cx="523.3" cy="292.3" rx="2.75" ry="2.4"/><ellipse cx="515.1" cy="298.4" rx="2.75" ry="2.4"/><ellipse cx="528.4" cy="318.0" rx="2.75" ry="2.4"/><ellipse cx="511.0" cy="296.6" rx="2.75" ry="2.4"/><ellipse cx="524.6" cy="320.1" rx="2.75" ry="2.4"/><ellipse cx="527.3" cy="306.2" rx="2.75" ry="2.4"/><ellipse cx="514.3" cy="303.6" rx="2.75" ry="2.4"/><ellipse cx="521.6" cy="298.9" rx="2.75" ry="2.4"/><ellipse cx="538.5" cy="279.8" rx="2.75" ry="2.4"/><ellipse cx="540.0" cy="285.9" rx="2.75" ry="2.4"/><ellipse cx="535.3" cy="305.1" rx="2.75" ry="2.4"/><ellipse cx="530.9" cy="292.1" rx="2.75" ry="2.4"/><ellipse cx="530.9" cy="295.4" rx="2.75" ry="2.4"/><ellipse cx="531.0" cy="298.2" rx="2.75" ry="2.4"/><ellipse cx="531.4" cy="300.7" rx="2.75" ry="2.4"/><ellipse cx="529.6" cy="302.9" rx="2.75" ry="2.4"/><ellipse cx="518.4" cy="324.1" rx="2.75" ry="2.4"/><ellipse cx="524.1" cy="326.8" rx="2.75" ry="2.4"/><ellipse cx="526.5" cy="329.0" rx="2.75" ry="2.4"/><ellipse cx="538.8" cy="328.7" rx="2.75" ry="2.4"/><ellipse cx="542.9" cy="324.6" rx="2.75" ry="2.4"/><ellipse cx="526.0" cy="344.5" rx="2.75" ry="2.4"/><ellipse cx="532.0" cy="311.3" rx="2.75" ry="2.4"/><ellipse cx="534.7" cy="306.4" rx="2.75" ry="2.4"/></g>
<g fill="#000000"><ellipse cx="482.3" cy="258.9" rx="2.75" ry="2.4"/><ellipse cx="485.3" cy="260.9" rx="2.75" ry="2.4"/><ellipse cx="488.5" cy="262.2" rx="2.75" ry="2.4"/><ellipse cx="491.8" cy="263.0" rx="2.75" ry="2.4"/><ellipse cx="479.4" cy="243.1" rx="2.75" ry="2.4"/><ellipse cx="483.4" cy="243.0" rx="2.75" ry="2.4"/><ellipse cx="488.4" cy="243.1" rx="2.75" ry="2.4"/><ellipse cx="493.1" cy="243.0" rx="2.75" ry="2.4"/><ellipse cx="499.8" cy="242.6" rx="2.75" ry="2.4"/><ellipse cx="505.2" cy="244.2" rx="2.75" ry="2.4"/><ellipse cx="509.5" cy="243.4" rx="2.75" ry="2.4"/><ellipse cx="512.5" cy="243.8" rx="2.75" ry="2.4"/><ellipse cx="516.2" cy="245.3" rx="2.75" ry="2.4"/><ellipse cx="511.8" cy="247.6" rx="2.75" ry="2.4"/><ellipse cx="516.2" cy="255.5" rx="2.75" ry="2.4"/><ellipse cx="515.2" cy="260.1" rx="2.75" ry="2.4"/><ellipse cx="502.9" cy="264.8" rx="2.75" ry="2.4"/><ellipse cx="508.3" cy="264.1" rx="2.75" ry="2.4"/><ellipse cx="512.2" cy="262.9" rx="2.75" ry="2.4"/><ellipse cx="514.0" cy="261.8" rx="2.75" ry="2.4"/><ellipse cx="479.1" cy="246.2" rx="2.75" ry="2.4"/><ellipse cx="480.9" cy="254.2" rx="2.75" ry="2.4"/><ellipse cx="480.9" cy="256.6" rx="2.75" ry="2.4"/><ellipse cx="490.9" cy="245.9" rx="2.75" ry="2.4"/><ellipse cx="499.0" cy="250.7" rx="2.75" ry="2.4"/><ellipse cx="481.3" cy="244.6" rx="2.75" ry="2.4"/><ellipse cx="494.8" cy="261.1" rx="2.75" ry="2.4"/><ellipse cx="483.3" cy="247.5" rx="2.75" ry="2.4"/><ellipse cx="484.1" cy="245.2" rx="2.75" ry="2.4"/><ellipse cx="490.4" cy="260.9" rx="2.75" ry="2.4"/><ellipse cx="502.9" cy="250.9" rx="2.75" ry="2.4"/><ellipse cx="504.5" cy="252.1" rx="2.75" ry="2.4"/><ellipse cx="490.6" cy="255.7" rx="2.75" ry="2.4"/><ellipse cx="495.9" cy="249.3" rx="2.75" ry="2.4"/><ellipse cx="498.6" cy="262.2" rx="2.75" ry="2.4"/><ellipse cx="506.4" cy="249.0" rx="2.75" ry="2.4"/><ellipse cx="484.4" cy="253.5" rx="2.75" ry="2.4"/><ellipse cx="507.7" cy="255.4" rx="2.75" ry="2.4"/><ellipse cx="505.1" cy="255.9" rx="2.75" ry="2.4"/><ellipse cx="500.7" cy="252.8" rx="2.75" ry="2.4"/><ellipse cx="496.7" cy="257.5" rx="2.75" ry="2.4"/><ellipse cx="493.3" cy="257.6" rx="2.75" ry="2.4"/><ellipse cx="485.3" cy="247.7" rx="2.75" ry="2.4"/><ellipse cx="487.5" cy="253.4" rx="2.75" ry="2.4"/><ellipse cx="501.0" cy="248.4" rx="2.75" ry="2.4"/><ellipse cx="492.7" cy="255.3" rx="2.75" ry="2.4"/><ellipse cx="514.9" cy="258.0" rx="2.75" ry="2.4"/><ellipse cx="493.5" cy="251.5" rx="2.75" ry="2.4"/><ellipse cx="486.6" cy="246.2" rx="2.75" ry="2.4"/><ellipse cx="502.0" cy="245.9" rx="2.75" ry="2.4"/><ellipse cx="496.4" cy="253.4" rx="2.75" ry="2.4"/><ellipse cx="491.7" cy="248.5" rx="2.75" ry="2.4"/><ellipse cx="498.7" cy="245.8" rx="2.75" ry="2.4"/><ellipse cx="498.9" cy="260.0" rx="2.75" ry="2.4"/><ellipse cx="502.4" cy="262.8" rx="2.75" ry="2.4"/><ellipse cx="510.6" cy="253.3" rx="2.75" ry="2.4"/><ellipse cx="507.2" cy="253.3" rx="2.75" ry="2.4"/><ellipse cx="488.2" cy="249.1" rx="2.75" ry="2.4"/><ellipse cx="492.1" cy="252.8" rx="2.75" ry="2.4"/><ellipse cx="494.6" cy="263.2" rx="2.75" ry="2.4"/><ellipse cx="495.4" cy="246.6" rx="2.75" ry="2.4"/><ellipse cx="482.6" cy="255.1" rx="2.75" ry="2.4"/><ellipse cx="496.8" cy="263.7" rx="2.75" ry="2.4"/><ellipse cx="499.9" cy="263.7" rx="2.75" ry="2.4"/><ellipse cx="510.6" cy="245.6" rx="2.75" ry="2.4"/><ellipse cx="484.5" cy="258.6" rx="2.75" ry="2.4"/><ellipse cx="486.1" cy="249.7" rx="2.75" ry="2.4"/><ellipse cx="502.4" cy="254.0" rx="2.75" ry="2.4"/><ellipse cx="488.9" cy="245.4" rx="2.75" ry="2.4"/><ellipse cx="500.3" cy="258.3" rx="2.75" ry="2.4"/><ellipse cx="498.7" cy="247.9" rx="2.75" ry="2.4"/><ellipse cx="514.2" cy="244.9" rx="2.75" ry="2.4"/><ellipse cx="507.2" cy="257.3" rx="2.75" ry="2.4"/><ellipse cx="512.6" cy="256.6" rx="2.75" ry="2.4"/><ellipse cx="483.7" cy="250.6" rx="2.75" ry="2.4"/><ellipse cx="502.5" cy="257.8" rx="2.75" ry="2.4"/><ellipse cx="504.3" cy="249.1" rx="2.75" ry="2.4"/><ellipse cx="498.3" cy="253.0" rx="2.75" ry="2.4"/><ellipse cx="512.7" cy="253.2" rx="2.75" ry="2.4"/><ellipse cx="498.6" cy="255.6" rx="2.75" ry="2.4"/><ellipse cx="493.4" cy="247.5" rx="2.75" ry="2.4"/><ellipse cx="504.6" cy="247.0" rx="2.75" ry="2.4"/><ellipse cx="487.0" cy="259.6" rx="2.75" ry="2.4"/><ellipse cx="509.4" cy="257.2" rx="2.75" ry="2.4"/><ellipse cx="497.0" cy="243.7" rx="2.75" ry="2.4"/><ellipse cx="486.9" cy="251.5" rx="2.75" ry="2.4"/><ellipse cx="494.6" cy="255.6" rx="2.75" ry="2.4"/><ellipse cx="482.1" cy="252.5" rx="2.75" ry="2.4"/><ellipse cx="492.3" cy="259.7" rx="2.75" ry="2.4"/><ellipse cx="495.3" cy="258.8" rx="2.75" ry="2.4"/><ellipse cx="489.4" cy="258.6" rx="2.75" ry="2.4"/><ellipse cx="489.4" cy="247.3" rx="2.75" ry="2.4"/><ellipse cx="508.2" cy="251.3" rx="2.75" ry="2.4"/><ellipse cx="514.4" cy="254.4" rx="2.75" ry="2.4"/><ellipse cx="510.4" cy="250.5" rx="2.75" ry="2.4"/><ellipse cx="501.8" cy="260.1" rx="2.75" ry="2.4"/><ellipse cx="507.7" cy="244.8" rx="2.75" ry="2.4"/><ellipse cx="485.5" cy="243.3" rx="2.75" ry="2.4"/><ellipse cx="494.3" cy="244.8" rx="2.75" ry="2.4"/><ellipse cx="510.7" cy="255.7" rx="2.75" ry="2.4"/><ellipse cx="496.8" cy="260.5" rx="2.75" ry="2.4"/><ellipse cx="490.5" cy="243.7" rx="2.75" ry="2.4"/><ellipse cx="500.5" cy="255.1" rx="2.75" ry="2.4"/><ellipse cx="484.6" cy="256.6" rx="2.75" ry="2.4"/><ellipse cx="491.3" cy="257.8" rx="2.75" ry="2.4"/><ellipse cx="493.6" cy="249.5" rx="2.75" ry="2.4"/><ellipse cx="496.9" cy="251.1" rx="2.75" ry="2.4"/><ellipse cx="503.1" cy="255.9" rx="2.75" ry="2.4"/><ellipse cx="494.1" cy="253.7" rx="2.75" ry="2.4"/><ellipse cx="490.1" cy="253.5" rx="2.75" ry="2.4"/><ellipse cx="480.9" cy="247.0" rx="2.75" ry="2.4"/><ellipse cx="510.2" cy="263.3" rx="2.75" ry="2.4"/><ellipse cx="504.1" cy="261.9" rx="2.75" ry="2.4"/><ellipse cx="501.0" cy="250.6" rx="2.75" ry="2.4"/><ellipse cx="468.0" cy="227.5" rx="2.75" ry="2.4"/><ellipse cx="452.9" cy="242.9" rx="2.75" ry="2.4"/><ellipse cx="457.2" cy="254.7" rx="2.75" ry="2.4"/><ellipse cx="477.0" cy="258.8" rx="2.75" ry="2.4"/><ellipse cx="476.8" cy="260.6" rx="2.75" ry="2.4"/><ellipse cx="527.1" cy="235.8" rx="2.75" ry="2.4"/><ellipse cx="543.7" cy="236.5" rx="2.75" ry="2.4"/><ellipse cx="524.8" cy="262.7" rx="2.75" ry="2.4"/><ellipse cx="485.9" cy="270.5" rx="2.75" ry="2.4"/><ellipse cx="509.2" cy="239.9" rx="2.75" ry="2.4"/></g>
<text transform="translate(450.10,367.40) scale(1.125,1)" text-anchor="middle" font-size="14">0</text>
<text transform="translate(502.60,367.40) scale(1.125,1)" text-anchor="middle" font-size="14">5000</text>
<text transform="translate(443.00,353.20) scale(1.125,1)" text-anchor="end" font-size="14">-2000</text>
<text transform="translate(443.00,311.77) scale(1.125,1)" text-anchor="end" font-size="14">0</text>
<text transform="translate(443.00,270.33) scale(1.125,1)" text-anchor="end" font-size="14">2000</text>
<text transform="translate(443.00,228.90) scale(1.125,1)" text-anchor="end" font-size="14">4000</text>
<text transform="translate(497.35,389.00) scale(1.16,1)" text-anchor="middle" font-size="14.8">x(m)</text>
<text transform="translate(497.35,408.10) scale(1.15,1)" text-anchor="middle" font-size="14.8">(f)</text>
<text transform="translate(393.90,284.90) rotate(-90) scale(1,1.2)" text-anchor="middle" font-size="15">y(m)</text>
</svg>
</body></html>
